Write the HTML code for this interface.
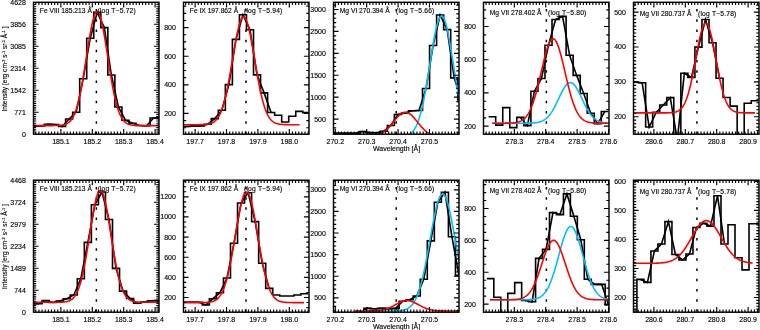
<!DOCTYPE html><html><head><meta charset="utf-8"><style>
html,body{margin:0;padding:0;background:#fff;width:760px;height:330px;overflow:hidden}
svg{display:block}
text{font-family:"Liberation Sans", sans-serif;fill:#000;stroke:#000;stroke-width:0.13px}
.tl{font-size:7.0px}
.tt{font-size:6.7px;white-space:pre}
.ax{font-size:7px}
.ay{font-size:6.6px}
.t2{letter-spacing:0.2px}
</style></head><body>
<svg width="760" height="330" viewBox="0 0 760 330" style="will-change:transform">
<rect width="760" height="330" fill="#fff"/>
<clipPath id="c00"><rect x="33.5" y="2.3" width="125.5" height="131.9"/></clipPath>
<g clip-path="url(#c00)">
<line x1="96.38" y1="9.05" x2="96.38" y2="136.2" stroke="#000" stroke-width="1.5" stroke-dasharray="2.5 7.7"/>
<path d="M30.4 126.2H37.44V126H44.48V124.2H51.52V124.5H58.56V126.5H65.6V119H72.64V112.2H79.68V78.7H86.72V38.2H93.76V12.3H100.8V27.6H107.84V75H114.88V107H121.92V120.2H128.96V123.3H136V125.5H143.04V125.8H150.08V118H157.12V117H164.16" fill="none" stroke="#000" stroke-width="1.6"/>
<polyline points="33.92,126.2 40.96,126 48,124.2 55.04,124.5 62.08,126.5 69.12,119 76.16,112.2 83.2,78.7 90.24,38.2 97.28,12.3 104.32,27.6 111.36,75 118.4,107 125.44,120.2 132.48,123.3 139.52,125.5 146.56,125.8 153.6,118 160.64,117" fill="none" stroke="#000" stroke-width="1.6"/>
<polyline points="31.5,125.6 32,125.6 32.5,125.6 32.99,125.6 33.49,125.6 33.99,125.6 34.49,125.6 34.99,125.6 35.48,125.6 35.98,125.6 36.48,125.6 36.98,125.6 37.48,125.6 37.98,125.6 38.47,125.6 38.97,125.6 39.47,125.6 39.97,125.6 40.47,125.6 40.96,125.6 41.46,125.6 41.96,125.6 42.46,125.6 42.96,125.6 43.45,125.6 43.95,125.6 44.45,125.6 44.95,125.6 45.45,125.6 45.94,125.6 46.44,125.6 46.94,125.6 47.44,125.6 47.94,125.6 48.43,125.6 48.93,125.6 49.43,125.6 49.93,125.59 50.43,125.59 50.92,125.59 51.42,125.59 51.92,125.59 52.42,125.58 52.92,125.58 53.42,125.58 53.91,125.57 54.41,125.57 54.91,125.56 55.41,125.55 55.91,125.54 56.4,125.53 56.9,125.51 57.4,125.5 57.9,125.48 58.4,125.46 58.89,125.43 59.39,125.4 59.89,125.36 60.39,125.32 60.89,125.27 61.38,125.21 61.88,125.14 62.38,125.07 62.88,124.98 63.38,124.88 63.88,124.76 64.37,124.63 64.87,124.48 65.37,124.31 65.87,124.12 66.37,123.9 66.86,123.66 67.36,123.38 67.86,123.07 68.36,122.72 68.86,122.34 69.35,121.91 69.85,121.43 70.35,120.9 70.85,120.31 71.35,119.66 71.84,118.95 72.34,118.17 72.84,117.32 73.34,116.39 73.84,115.38 74.33,114.28 74.83,113.09 75.33,111.81 75.83,110.43 76.33,108.95 76.83,107.36 77.32,105.67 77.82,103.87 78.32,101.96 78.82,99.93 79.32,97.8 79.81,95.55 80.31,93.19 80.81,90.73 81.31,88.16 81.81,85.48 82.3,82.72 82.8,79.86 83.3,76.92 83.8,73.91 84.3,70.83 84.79,67.69 85.29,64.52 85.79,61.3 86.29,58.07 86.79,54.84 87.28,51.61 87.78,48.4 88.28,45.24 88.78,42.12 89.28,39.08 89.78,36.13 90.27,33.28 90.77,30.55 91.27,27.95 91.77,25.5 92.27,23.22 92.76,21.12 93.26,19.21 93.76,17.5 94.26,16.01 94.76,14.74 95.25,13.71 95.75,12.91 96.25,12.36 96.75,12.06 97.25,12.01 97.74,12.21 98.24,12.66 98.74,13.35 99.24,14.29 99.74,15.46 100.23,16.86 100.73,18.48 101.23,20.31 101.73,22.33 102.23,24.54 102.72,26.92 103.22,29.46 103.72,32.13 104.22,34.94 104.72,37.85 105.22,40.86 105.71,43.94 106.21,47.09 106.71,50.28 107.21,53.5 107.71,56.74 108.2,59.97 108.7,63.19 109.2,66.39 109.7,69.54 110.2,72.64 110.69,75.69 111.19,78.66 111.69,81.55 112.19,84.35 112.69,87.06 113.18,89.68 113.68,92.19 114.18,94.59 114.68,96.88 115.18,99.06 115.67,101.13 116.17,103.09 116.67,104.94 117.17,106.68 117.67,108.31 118.17,109.83 118.66,111.25 119.16,112.58 119.66,113.8 120.16,114.94 120.66,115.98 121.15,116.95 121.65,117.83 122.15,118.64 122.65,119.38 123.15,120.05 123.64,120.66 124.14,121.21 124.64,121.71 125.14,122.16 125.64,122.57 126.13,122.93 126.63,123.26 127.13,123.55 127.63,123.8 128.13,124.03 128.62,124.24 129.12,124.42 129.62,124.57 130.12,124.71 130.62,124.83 131.12,124.94 131.61,125.03 132.11,125.11 132.61,125.18 133.11,125.25 133.61,125.3 134.1,125.34 134.6,125.38 135.1,125.42 135.6,125.44 136.1,125.47 136.59,125.49 137.09,125.51 137.59,125.52 138.09,125.54 138.59,125.55 139.08,125.56 139.58,125.56 140.08,125.57 140.58,125.57 141.08,125.58 141.57,125.58 142.07,125.59 142.57,125.59 143.07,125.59 143.57,125.59 144.07,125.59 144.56,125.59 145.06,125.6 145.56,125.6 146.06,125.6 146.56,125.6 147.05,125.6 147.55,125.6 148.05,125.6 148.55,125.6 149.05,125.6 149.54,125.6 150.04,125.6 150.54,125.6 151.04,125.6 151.54,125.6 152.03,125.6 152.53,125.6 153.03,125.6 153.53,125.6 154.03,125.6 154.53,125.6 155.02,125.6 155.52,125.6 156.02,125.6 156.52,125.6 157.02,125.6 157.51,125.6 158.01,125.6 158.51,125.6 159.01,125.6 159.51,125.6 160,125.6 160.5,125.6 161,125.6" fill="none" stroke="#ff0000" stroke-width="1.6"/>
</g>
<path d="M35.78 134.2v-2.7M35.78 2.3v2.7M38.92 134.2v-2.7M38.92 2.3v2.7M42.06 134.2v-2.7M42.06 2.3v2.7M45.2 134.2v-2.7M45.2 2.3v2.7M48.34 134.2v-2.7M48.34 2.3v2.7M51.48 134.2v-2.7M51.48 2.3v2.7M54.62 134.2v-2.7M54.62 2.3v2.7M57.76 134.2v-2.7M57.76 2.3v2.7M60.9 134.2v-5.1M60.9 2.3v5.1M64.04 134.2v-2.7M64.04 2.3v2.7M67.18 134.2v-2.7M67.18 2.3v2.7M70.32 134.2v-2.7M70.32 2.3v2.7M73.46 134.2v-2.7M73.46 2.3v2.7M76.6 134.2v-2.7M76.6 2.3v2.7M79.74 134.2v-2.7M79.74 2.3v2.7M82.88 134.2v-2.7M82.88 2.3v2.7M86.02 134.2v-2.7M86.02 2.3v2.7M89.16 134.2v-2.7M89.16 2.3v2.7M92.3 134.2v-5.1M92.3 2.3v5.1M95.44 134.2v-2.7M95.44 2.3v2.7M98.58 134.2v-2.7M98.58 2.3v2.7M101.72 134.2v-2.7M101.72 2.3v2.7M104.86 134.2v-2.7M104.86 2.3v2.7M108 134.2v-2.7M108 2.3v2.7M111.14 134.2v-2.7M111.14 2.3v2.7M114.28 134.2v-2.7M114.28 2.3v2.7M117.42 134.2v-2.7M117.42 2.3v2.7M120.56 134.2v-2.7M120.56 2.3v2.7M123.7 134.2v-5.1M123.7 2.3v5.1M126.84 134.2v-2.7M126.84 2.3v2.7M129.98 134.2v-2.7M129.98 2.3v2.7M133.12 134.2v-2.7M133.12 2.3v2.7M136.26 134.2v-2.7M136.26 2.3v2.7M139.4 134.2v-2.7M139.4 2.3v2.7M142.54 134.2v-2.7M142.54 2.3v2.7M145.68 134.2v-2.7M145.68 2.3v2.7M148.82 134.2v-2.7M148.82 2.3v2.7M151.96 134.2v-2.7M151.96 2.3v2.7M155.1 134.2v-5.1M155.1 2.3v5.1M158.24 134.2v-2.7M158.24 2.3v2.7M33.5 132h2.7M159 132h-2.7M33.5 129.8h2.7M159 129.8h-2.7M33.5 127.61h2.7M159 127.61h-2.7M33.5 125.41h2.7M159 125.41h-2.7M33.5 123.21h2.7M159 123.21h-2.7M33.5 121.01h2.7M159 121.01h-2.7M33.5 118.81h2.7M159 118.81h-2.7M33.5 116.61h2.7M159 116.61h-2.7M33.5 114.42h2.7M159 114.42h-2.7M33.5 112.22h5.1M159 112.22h-5.1M33.5 110.02h2.7M159 110.02h-2.7M33.5 107.82h2.7M159 107.82h-2.7M33.5 105.62h2.7M159 105.62h-2.7M33.5 103.42h2.7M159 103.42h-2.7M33.5 101.23h2.7M159 101.23h-2.7M33.5 99.03h2.7M159 99.03h-2.7M33.5 96.83h2.7M159 96.83h-2.7M33.5 94.63h2.7M159 94.63h-2.7M33.5 92.43h2.7M159 92.43h-2.7M33.5 90.23h5.1M159 90.23h-5.1M33.5 88.04h2.7M159 88.04h-2.7M33.5 85.84h2.7M159 85.84h-2.7M33.5 83.64h2.7M159 83.64h-2.7M33.5 81.44h2.7M159 81.44h-2.7M33.5 79.24h2.7M159 79.24h-2.7M33.5 77.04h2.7M159 77.04h-2.7M33.5 74.85h2.7M159 74.85h-2.7M33.5 72.65h2.7M159 72.65h-2.7M33.5 70.45h2.7M159 70.45h-2.7M33.5 68.25h5.1M159 68.25h-5.1M33.5 66.05h2.7M159 66.05h-2.7M33.5 63.85h2.7M159 63.85h-2.7M33.5 61.66h2.7M159 61.66h-2.7M33.5 59.46h2.7M159 59.46h-2.7M33.5 57.26h2.7M159 57.26h-2.7M33.5 55.06h2.7M159 55.06h-2.7M33.5 52.86h2.7M159 52.86h-2.7M33.5 50.66h2.7M159 50.66h-2.7M33.5 48.47h2.7M159 48.47h-2.7M33.5 46.27h5.1M159 46.27h-5.1M33.5 44.07h2.7M159 44.07h-2.7M33.5 41.87h2.7M159 41.87h-2.7M33.5 39.67h2.7M159 39.67h-2.7M33.5 37.47h2.7M159 37.47h-2.7M33.5 35.28h2.7M159 35.28h-2.7M33.5 33.08h2.7M159 33.08h-2.7M33.5 30.88h2.7M159 30.88h-2.7M33.5 28.68h2.7M159 28.68h-2.7M33.5 26.48h2.7M159 26.48h-2.7M33.5 24.28h5.1M159 24.28h-5.1M33.5 22.09h2.7M159 22.09h-2.7M33.5 19.89h2.7M159 19.89h-2.7M33.5 17.69h2.7M159 17.69h-2.7M33.5 15.49h2.7M159 15.49h-2.7M33.5 13.29h2.7M159 13.29h-2.7M33.5 11.09h2.7M159 11.09h-2.7M33.5 8.9h2.7M159 8.9h-2.7M33.5 6.7h2.7M159 6.7h-2.7M33.5 4.5h2.7M159 4.5h-2.7" stroke="#000" stroke-width="1.15" fill="none"/>
<rect x="33.5" y="2.3" width="125.5" height="131.9" fill="none" stroke="#000" stroke-width="1.45"/>
<text x="25.9" y="136.7" class="tl" text-anchor="end">0</text>
<text x="25.9" y="114.72" class="tl" text-anchor="end">771</text>
<text x="25.9" y="92.73" class="tl" text-anchor="end">1542</text>
<text x="25.9" y="70.75" class="tl" text-anchor="end">2314</text>
<text x="25.9" y="48.77" class="tl" text-anchor="end">3085</text>
<text x="25.9" y="26.78" class="tl" text-anchor="end">3856</text>
<text x="25.9" y="4.8" class="tl" text-anchor="end">4628</text>
<text x="60.9" y="144" class="tl" text-anchor="middle">185.1</text>
<text x="92.3" y="144" class="tl" text-anchor="middle">185.2</text>
<text x="123.7" y="144" class="tl" text-anchor="middle">185.3</text>
<text x="155.1" y="144" class="tl" text-anchor="middle">185.4</text>
<text x="39.8" y="12.8" class="tt">Fe VIII 185.213 Å</text>
<text x="97.4" y="12.8" class="tt t2">(log T~5.72)</text>
<clipPath id="c10"><rect x="183.5" y="2.3" width="125.5" height="131.9"/></clipPath>
<g clip-path="url(#c10)">
<line x1="245.99" y1="9.05" x2="245.99" y2="136.2" stroke="#000" stroke-width="1.5" stroke-dasharray="2.5 7.7"/>
<path d="M183.12 126.5H190.16V126H197.2V126H204.24V124.2H211.28V118.6H218.32V110.2H225.36V84.6H232.4V39.4H239.44V14.8H246.48V29.7H253.52V74.9H260.56V92.9H267.6V112.5H274.64V115.2H281.68V122H288.72V116.3H295.76V111.4H302.8V112.6H309.84" fill="none" stroke="#000" stroke-width="1.6"/>
<polyline points="186.64,126.5 193.68,126 200.72,126 207.76,124.2 214.8,118.6 221.84,110.2 228.88,84.6 235.92,39.4 242.96,14.8 250,29.7 257.04,74.9 264.08,92.9 271.12,112.5" fill="none" stroke="#000" stroke-width="1.6"/>
<polyline points="183.5,124.7 184,124.7 184.5,124.7 184.99,124.7 185.49,124.7 185.99,124.7 186.49,124.7 186.99,124.7 187.49,124.7 187.98,124.7 188.48,124.7 188.98,124.7 189.48,124.7 189.98,124.7 190.48,124.7 190.97,124.7 191.47,124.7 191.97,124.7 192.47,124.7 192.97,124.7 193.47,124.7 193.96,124.7 194.46,124.69 194.96,124.69 195.46,124.69 195.96,124.69 196.46,124.69 196.95,124.69 197.45,124.68 197.95,124.68 198.45,124.68 198.95,124.67 199.45,124.67 199.94,124.66 200.44,124.65 200.94,124.64 201.44,124.63 201.94,124.62 202.43,124.6 202.93,124.58 203.43,124.56 203.93,124.54 204.43,124.51 204.93,124.48 205.42,124.44 205.92,124.39 206.42,124.34 206.92,124.28 207.42,124.22 207.92,124.14 208.41,124.05 208.91,123.95 209.41,123.84 209.91,123.71 210.41,123.56 210.91,123.4 211.4,123.21 211.9,123 212.4,122.77 212.9,122.5 213.4,122.21 213.9,121.88 214.39,121.52 214.89,121.12 215.39,120.67 215.89,120.18 216.39,119.64 216.88,119.05 217.38,118.4 217.88,117.69 218.38,116.91 218.88,116.07 219.38,115.15 219.87,114.16 220.37,113.09 220.87,111.94 221.37,110.7 221.87,109.37 222.37,107.96 222.86,106.44 223.36,104.84 223.86,103.13 224.36,101.33 224.86,99.43 225.36,97.43 225.85,95.33 226.35,93.14 226.85,90.85 227.35,88.47 227.85,86 228.35,83.45 228.84,80.82 229.34,78.12 229.84,75.35 230.34,72.53 230.84,69.66 231.34,66.75 231.83,63.81 232.33,60.85 232.83,57.89 233.33,54.93 233.83,51.99 234.32,49.08 234.82,46.22 235.32,43.41 235.82,40.68 236.32,38.03 236.82,35.49 237.31,33.05 237.81,30.75 238.31,28.58 238.81,26.56 239.31,24.71 239.81,23.03 240.3,21.54 240.8,20.23 241.3,19.13 241.8,18.24 242.3,17.55 242.8,17.09 243.29,16.84 243.79,16.82 244.29,17.01 244.79,17.43 245.29,18.06 245.79,18.91 246.28,19.96 246.78,21.22 247.28,22.67 247.78,24.31 248.28,26.12 248.78,28.1 249.27,30.24 249.77,32.51 250.27,34.92 250.77,37.44 251.27,40.07 251.76,42.78 252.26,45.57 252.76,48.42 253.26,51.32 253.76,54.26 254.26,57.21 254.75,60.17 255.25,63.13 255.75,66.08 256.25,69 256.75,71.88 257.25,74.71 257.74,77.49 258.24,80.21 258.74,82.86 259.24,85.43 259.74,87.91 260.24,90.31 260.73,92.62 261.23,94.84 261.73,96.96 262.23,98.98 262.73,100.91 263.23,102.73 263.72,104.46 264.22,106.09 264.72,107.62 265.22,109.06 265.72,110.4 266.22,111.66 266.71,112.83 267.21,113.92 267.71,114.93 268.21,115.86 268.71,116.72 269.2,117.51 269.7,118.24 270.2,118.9 270.7,119.51 271.2,120.06 271.7,120.57 272.19,121.02 272.69,121.43 273.19,121.81 273.69,122.14 274.19,122.44 274.69,122.71 275.18,122.95 275.68,123.17 276.18,123.36 276.68,123.53 277.18,123.68 277.68,123.81 278.17,123.93 278.67,124.03 279.17,124.12 279.67,124.2 280.17,124.27 280.67,124.33 281.16,124.38 281.66,124.43 282.16,124.47 282.66,124.5 283.16,124.53 283.65,124.56 284.15,124.58 284.65,124.6 285.15,124.61 285.65,124.63 286.15,124.64 286.64,124.65 287.14,124.66 287.64,124.66 288.14,124.67 288.64,124.68 289.14,124.68 289.63,124.68 290.13,124.69 290.63,124.69 291.13,124.69 291.63,124.69 292.13,124.69 292.62,124.69 293.12,124.7 293.62,124.7 294.12,124.7 294.62,124.7 295.12,124.7 295.61,124.7 296.11,124.7 296.61,124.7 297.11,124.7 297.61,124.7 298.11,124.7 298.6,124.7 299.1,124.7 299.6,124.7" fill="none" stroke="#ff0000" stroke-width="1.6"/>
</g>
<path d="M185.7 134.2v-2.7M185.7 2.3v2.7M188.84 134.2v-2.7M188.84 2.3v2.7M191.98 134.2v-2.7M191.98 2.3v2.7M195.12 134.2v-5.1M195.12 2.3v5.1M198.26 134.2v-2.7M198.26 2.3v2.7M201.4 134.2v-2.7M201.4 2.3v2.7M204.54 134.2v-2.7M204.54 2.3v2.7M207.68 134.2v-2.7M207.68 2.3v2.7M210.82 134.2v-2.7M210.82 2.3v2.7M213.96 134.2v-2.7M213.96 2.3v2.7M217.1 134.2v-2.7M217.1 2.3v2.7M220.24 134.2v-2.7M220.24 2.3v2.7M223.38 134.2v-2.7M223.38 2.3v2.7M226.52 134.2v-5.1M226.52 2.3v5.1M229.66 134.2v-2.7M229.66 2.3v2.7M232.8 134.2v-2.7M232.8 2.3v2.7M235.94 134.2v-2.7M235.94 2.3v2.7M239.08 134.2v-2.7M239.08 2.3v2.7M242.22 134.2v-2.7M242.22 2.3v2.7M245.36 134.2v-2.7M245.36 2.3v2.7M248.5 134.2v-2.7M248.5 2.3v2.7M251.64 134.2v-2.7M251.64 2.3v2.7M254.78 134.2v-2.7M254.78 2.3v2.7M257.92 134.2v-5.1M257.92 2.3v5.1M261.06 134.2v-2.7M261.06 2.3v2.7M264.2 134.2v-2.7M264.2 2.3v2.7M267.34 134.2v-2.7M267.34 2.3v2.7M270.48 134.2v-2.7M270.48 2.3v2.7M273.62 134.2v-2.7M273.62 2.3v2.7M276.76 134.2v-2.7M276.76 2.3v2.7M279.9 134.2v-2.7M279.9 2.3v2.7M283.04 134.2v-2.7M283.04 2.3v2.7M286.18 134.2v-2.7M286.18 2.3v2.7M289.32 134.2v-5.1M289.32 2.3v5.1M292.46 134.2v-2.7M292.46 2.3v2.7M295.6 134.2v-2.7M295.6 2.3v2.7M298.74 134.2v-2.7M298.74 2.3v2.7M301.88 134.2v-2.7M301.88 2.3v2.7M305.02 134.2v-2.7M305.02 2.3v2.7M308.16 134.2v-2.7M308.16 2.3v2.7M183.5 127.7h2.7M309 127.7h-2.7M183.5 120.55h2.7M309 120.55h-2.7M183.5 113.4h5.1M309 113.4h-5.1M183.5 106.25h2.7M309 106.25h-2.7M183.5 99.1h2.7M309 99.1h-2.7M183.5 91.95h2.7M309 91.95h-2.7M183.5 84.8h5.1M309 84.8h-5.1M183.5 77.65h2.7M309 77.65h-2.7M183.5 70.5h2.7M309 70.5h-2.7M183.5 63.35h2.7M309 63.35h-2.7M183.5 56.2h5.1M309 56.2h-5.1M183.5 49.05h2.7M309 49.05h-2.7M183.5 41.9h2.7M309 41.9h-2.7M183.5 34.75h2.7M309 34.75h-2.7M183.5 27.6h5.1M309 27.6h-5.1M183.5 20.45h2.7M309 20.45h-2.7M183.5 13.3h2.7M309 13.3h-2.7M183.5 6.15h2.7M309 6.15h-2.7" stroke="#000" stroke-width="1.15" fill="none"/>
<rect x="183.5" y="2.3" width="125.5" height="131.9" fill="none" stroke="#000" stroke-width="1.45"/>
<text x="175.9" y="115.9" class="tl" text-anchor="end">200</text>
<text x="175.9" y="87.3" class="tl" text-anchor="end">400</text>
<text x="175.9" y="58.7" class="tl" text-anchor="end">600</text>
<text x="175.9" y="30.1" class="tl" text-anchor="end">800</text>
<text x="195.12" y="144" class="tl" text-anchor="middle">197.7</text>
<text x="226.52" y="144" class="tl" text-anchor="middle">197.8</text>
<text x="257.92" y="144" class="tl" text-anchor="middle">197.9</text>
<text x="289.32" y="144" class="tl" text-anchor="middle">198.0</text>
<text x="189.8" y="12.9" class="tt">Fe IX 197.862 Å</text>
<text x="244" y="12.9" class="tt t2">(log T~5.94)</text>
<clipPath id="c20"><rect x="333.5" y="2.3" width="125.5" height="131.9"/></clipPath>
<g clip-path="url(#c20)">
<line x1="396.21" y1="9.05" x2="396.21" y2="136.2" stroke="#000" stroke-width="1.5" stroke-dasharray="2.5 7.7"/>
<path d="M331.01 133.4H338.05V133.2H345.09V133.4H352.13V133.2H359.17V131.5H366.21V132.6H373.25V132.8H380.29V131.2H387.33V125.5H394.37V114.5H401.41V113H408.45V110.8H415.49V110.5H422.53V88.5H429.57V45.5H436.61V15H443.65V29.6H450.69V77.9H457.73V100H464.77" fill="none" stroke="#000" stroke-width="1.6"/>
<polyline points="334.53,133.4 341.57,133.2 348.61,133.4 355.65,133.2 362.69,131.5 369.73,132.6 376.77,132.8 383.81,131.2 390.85,125.5 397.89,114.5 404.93,113 411.97,110.8 419.01,110.5 426.05,88.5 433.09,45.5 440.13,15 447.17,29.6 454.21,77.9 461.25,100" fill="none" stroke="#000" stroke-width="1.6"/>
<polyline points="331.5,137 332,137 332.5,137 332.99,137 333.49,137 333.99,137 334.49,137 334.99,137 335.48,137 335.98,137 336.48,137 336.98,137 337.48,137 337.98,137 338.47,137 338.97,137 339.47,137 339.97,137 340.47,137 340.96,137 341.46,137 341.96,137 342.46,137 342.96,137 343.45,137 343.95,137 344.45,137 344.95,137 345.45,137 345.94,137 346.44,137 346.94,137 347.44,137 347.94,137 348.43,137 348.93,137 349.43,137 349.93,137 350.43,137 350.93,137 351.42,137 351.92,137 352.42,137 352.92,137 353.42,137 353.91,137 354.41,137 354.91,137 355.41,137 355.91,137 356.4,137 356.9,137 357.4,137 357.9,137 358.4,137 358.89,137 359.39,137 359.89,137 360.39,137 360.89,137 361.38,137 361.88,137 362.38,137 362.88,137 363.38,137 363.88,137 364.37,137 364.87,137 365.37,137 365.87,137 366.37,137 366.86,137 367.36,137 367.86,137 368.36,137 368.86,137 369.35,137 369.85,137 370.35,137 370.85,137 371.35,137 371.84,137 372.34,137 372.84,137 373.34,137 373.84,137 374.33,137 374.83,137 375.33,137 375.83,137 376.33,137 376.82,137 377.32,137 377.82,137 378.32,137 378.82,137 379.32,137 379.81,137 380.31,137 380.81,137 381.31,137 381.81,137 382.3,137 382.8,137 383.3,137 383.8,137 384.3,137 384.79,137 385.29,137 385.79,137 386.29,137 386.79,137 387.28,137 387.78,137 388.28,137 388.78,137 389.28,137 389.77,136.99 390.27,136.99 390.77,136.99 391.27,136.99 391.77,136.99 392.27,136.99 392.76,136.98 393.26,136.98 393.76,136.98 394.26,136.97 394.76,136.97 395.25,136.96 395.75,136.95 396.25,136.94 396.75,136.93 397.25,136.92 397.74,136.9 398.24,136.89 398.74,136.87 399.24,136.85 399.74,136.82 400.23,136.79 400.73,136.76 401.23,136.72 401.73,136.67 402.23,136.62 402.73,136.56 403.22,136.49 403.72,136.41 404.22,136.33 404.72,136.23 405.22,136.12 405.71,135.99 406.21,135.85 406.71,135.69 407.21,135.51 407.71,135.31 408.2,135.08 408.7,134.83 409.2,134.55 409.7,134.24 410.2,133.9 410.69,133.52 411.19,133.1 411.69,132.64 412.19,132.14 412.69,131.58 413.18,130.98 413.68,130.32 414.18,129.59 414.68,128.81 415.18,127.96 415.68,127.04 416.17,126.05 416.67,124.98 417.17,123.83 417.67,122.6 418.17,121.28 418.66,119.87 419.16,118.37 419.66,116.77 420.16,115.08 420.66,113.29 421.15,111.4 421.65,109.42 422.15,107.33 422.65,105.15 423.15,102.86 423.64,100.48 424.14,98.01 424.64,95.45 425.14,92.79 425.64,90.06 426.13,87.25 426.63,84.37 427.13,81.42 427.63,78.41 428.13,75.36 428.62,72.27 429.12,69.15 429.62,66.01 430.12,62.86 430.62,59.71 431.12,56.58 431.61,53.47 432.11,50.4 432.61,47.39 433.11,44.44 433.61,41.58 434.1,38.8 434.6,36.13 435.1,33.58 435.6,31.16 436.1,28.88 436.59,26.76 437.09,24.8 437.59,23.02 438.09,21.42 438.59,20.01 439.08,18.81 439.58,17.82 440.08,17.03 440.58,16.47 441.08,16.12 441.57,16 442.07,16.1 442.57,16.42 443.07,16.97 443.57,17.73 444.07,18.7 444.56,19.88 445.06,21.27 445.56,22.85 446.06,24.61 446.56,26.55 447.05,28.66 447.55,30.92 448.05,33.33 448.55,35.87 449.05,38.53 449.54,41.29 450.04,44.15 450.54,47.09 451.04,50.1 451.54,53.16 452.03,56.26 452.53,59.39 453.03,62.54 453.53,65.69 454.03,68.83 454.52,71.96 455.02,75.05 455.52,78.11 456.02,81.12 456.52,84.07 457.02,86.96 457.51,89.78 458.01,92.52 458.51,95.18 459.01,97.76 459.51,100.24 460,102.63 460.5,104.92 461,107.12" fill="none" stroke="#00bfff" stroke-width="1.6"/>
<polyline points="331.5,137 332,137 332.5,137 332.99,137 333.49,137 333.99,137 334.49,137 334.99,137 335.48,137 335.98,137 336.48,137 336.98,137 337.48,137 337.98,137 338.47,137 338.97,137 339.47,137 339.97,137 340.47,137 340.96,137 341.46,137 341.96,137 342.46,137 342.96,137 343.45,137 343.95,137 344.45,137 344.95,137 345.45,137 345.94,137 346.44,137 346.94,137 347.44,137 347.94,137 348.43,137 348.93,137 349.43,137 349.93,137 350.43,137 350.93,137 351.42,137 351.92,137 352.42,137 352.92,137 353.42,137 353.91,137 354.41,137 354.91,137 355.41,137 355.91,136.99 356.4,136.99 356.9,136.99 357.4,136.99 357.9,136.99 358.4,136.99 358.89,136.99 359.39,136.98 359.89,136.98 360.39,136.98 360.89,136.97 361.38,136.97 361.88,136.97 362.38,136.96 362.88,136.95 363.38,136.95 363.88,136.94 364.37,136.93 364.87,136.92 365.37,136.9 365.87,136.89 366.37,136.88 366.86,136.86 367.36,136.84 367.86,136.81 368.36,136.79 368.86,136.76 369.35,136.73 369.85,136.69 370.35,136.65 370.85,136.61 371.35,136.56 371.84,136.5 372.34,136.44 372.84,136.38 373.34,136.3 373.84,136.22 374.33,136.13 374.83,136.03 375.33,135.93 375.83,135.81 376.33,135.68 376.82,135.54 377.32,135.39 377.82,135.23 378.32,135.06 378.82,134.87 379.32,134.66 379.81,134.45 380.31,134.21 380.81,133.96 381.31,133.7 381.81,133.41 382.3,133.11 382.8,132.79 383.3,132.45 383.8,132.09 384.3,131.72 384.79,131.32 385.29,130.91 385.79,130.47 386.29,130.02 386.79,129.55 387.28,129.06 387.78,128.56 388.28,128.04 388.78,127.5 389.28,126.94 389.77,126.38 390.27,125.8 390.77,125.2 391.27,124.6 391.77,123.99 392.27,123.38 392.76,122.76 393.26,122.13 393.76,121.51 394.26,120.88 394.76,120.27 395.25,119.65 395.75,119.05 396.25,118.46 396.75,117.88 397.25,117.31 397.74,116.77 398.24,116.24 398.74,115.74 399.24,115.26 399.74,114.81 400.23,114.39 400.73,114.01 401.23,113.65 401.73,113.33 402.23,113.05 402.73,112.81 403.22,112.6 403.72,112.44 404.22,112.32 404.72,112.24 405.22,112.2 405.71,112.21 406.21,112.26 406.71,112.35 407.21,112.48 407.71,112.65 408.2,112.87 408.7,113.12 409.2,113.41 409.7,113.74 410.2,114.1 410.69,114.5 411.19,114.93 411.69,115.38 412.19,115.87 412.69,116.38 413.18,116.91 413.68,117.46 414.18,118.02 414.68,118.61 415.18,119.2 415.68,119.81 416.17,120.43 416.67,121.05 417.17,121.67 417.67,122.29 418.17,122.92 418.66,123.54 419.16,124.15 419.66,124.76 420.16,125.36 420.66,125.95 421.15,126.52 421.65,127.09 422.15,127.64 422.65,128.17 423.15,128.69 423.64,129.19 424.14,129.68 424.64,130.14 425.14,130.59 425.64,131.02 426.13,131.43 426.63,131.82 427.13,132.19 427.63,132.54 428.13,132.87 428.62,133.19 429.12,133.49 429.62,133.77 430.12,134.03 430.62,134.27 431.12,134.5 431.61,134.72 432.11,134.92 432.61,135.1 433.11,135.28 433.61,135.43 434.1,135.58 434.6,135.72 435.1,135.84 435.6,135.95 436.1,136.06 436.59,136.15 437.09,136.24 437.59,136.32 438.09,136.39 438.59,136.46 439.08,136.52 439.58,136.57 440.08,136.62 440.58,136.66 441.08,136.7 441.57,136.74 442.07,136.77 442.57,136.8 443.07,136.82 443.57,136.84 444.07,136.86 444.56,136.88 445.06,136.89 445.56,136.91 446.06,136.92 446.56,136.93 447.05,136.94 447.55,136.95 448.05,136.96 448.55,136.96 449.05,136.97 449.54,136.97 450.04,136.98 450.54,136.98 451.04,136.98 451.54,136.98 452.03,136.99 452.53,136.99 453.03,136.99 453.53,136.99 454.03,136.99 454.52,136.99 455.02,137 455.52,137 456.02,137 456.52,137 457.02,137 457.51,137 458.01,137 458.51,137 459.01,137 459.51,137 460,137 460.5,137 461,137" fill="none" stroke="#ff0000" stroke-width="1.6"/>
</g>
<path d="M335.29 134.2v-5.1M335.29 2.3v5.1M338.43 134.2v-2.7M338.43 2.3v2.7M341.57 134.2v-2.7M341.57 2.3v2.7M344.71 134.2v-2.7M344.71 2.3v2.7M347.85 134.2v-2.7M347.85 2.3v2.7M350.99 134.2v-2.7M350.99 2.3v2.7M354.13 134.2v-2.7M354.13 2.3v2.7M357.27 134.2v-2.7M357.27 2.3v2.7M360.41 134.2v-2.7M360.41 2.3v2.7M363.55 134.2v-2.7M363.55 2.3v2.7M366.69 134.2v-5.1M366.69 2.3v5.1M369.83 134.2v-2.7M369.83 2.3v2.7M372.97 134.2v-2.7M372.97 2.3v2.7M376.11 134.2v-2.7M376.11 2.3v2.7M379.25 134.2v-2.7M379.25 2.3v2.7M382.39 134.2v-2.7M382.39 2.3v2.7M385.53 134.2v-2.7M385.53 2.3v2.7M388.67 134.2v-2.7M388.67 2.3v2.7M391.81 134.2v-2.7M391.81 2.3v2.7M394.95 134.2v-2.7M394.95 2.3v2.7M398.09 134.2v-5.1M398.09 2.3v5.1M401.23 134.2v-2.7M401.23 2.3v2.7M404.37 134.2v-2.7M404.37 2.3v2.7M407.51 134.2v-2.7M407.51 2.3v2.7M410.65 134.2v-2.7M410.65 2.3v2.7M413.79 134.2v-2.7M413.79 2.3v2.7M416.93 134.2v-2.7M416.93 2.3v2.7M420.07 134.2v-2.7M420.07 2.3v2.7M423.21 134.2v-2.7M423.21 2.3v2.7M426.35 134.2v-2.7M426.35 2.3v2.7M429.49 134.2v-5.1M429.49 2.3v5.1M432.63 134.2v-2.7M432.63 2.3v2.7M435.77 134.2v-2.7M435.77 2.3v2.7M438.91 134.2v-2.7M438.91 2.3v2.7M442.05 134.2v-2.7M442.05 2.3v2.7M445.19 134.2v-2.7M445.19 2.3v2.7M448.33 134.2v-2.7M448.33 2.3v2.7M451.47 134.2v-2.7M451.47 2.3v2.7M454.61 134.2v-2.7M454.61 2.3v2.7M457.75 134.2v-2.7M457.75 2.3v2.7M333.5 132.25h2.7M459 132.25h-2.7M333.5 127.87h2.7M459 127.87h-2.7M333.5 123.48h2.7M459 123.48h-2.7M333.5 119.1h5.1M459 119.1h-5.1M333.5 114.72h2.7M459 114.72h-2.7M333.5 110.33h2.7M459 110.33h-2.7M333.5 105.95h2.7M459 105.95h-2.7M333.5 101.56h2.7M459 101.56h-2.7M333.5 97.18h5.1M459 97.18h-5.1M333.5 92.8h2.7M459 92.8h-2.7M333.5 88.41h2.7M459 88.41h-2.7M333.5 84.03h2.7M459 84.03h-2.7M333.5 79.64h2.7M459 79.64h-2.7M333.5 75.26h5.1M459 75.26h-5.1M333.5 70.88h2.7M459 70.88h-2.7M333.5 66.49h2.7M459 66.49h-2.7M333.5 62.11h2.7M459 62.11h-2.7M333.5 57.72h2.7M459 57.72h-2.7M333.5 53.34h5.1M459 53.34h-5.1M333.5 48.96h2.7M459 48.96h-2.7M333.5 44.57h2.7M459 44.57h-2.7M333.5 40.19h2.7M459 40.19h-2.7M333.5 35.8h2.7M459 35.8h-2.7M333.5 31.42h5.1M459 31.42h-5.1M333.5 27.04h2.7M459 27.04h-2.7M333.5 22.65h2.7M459 22.65h-2.7M333.5 18.27h2.7M459 18.27h-2.7M333.5 13.88h2.7M459 13.88h-2.7M333.5 9.5h5.1M459 9.5h-5.1M333.5 5.12h2.7M459 5.12h-2.7" stroke="#000" stroke-width="1.15" fill="none"/>
<rect x="333.5" y="2.3" width="125.5" height="131.9" fill="none" stroke="#000" stroke-width="1.45"/>
<text x="325.9" y="121.6" class="tl" text-anchor="end">500</text>
<text x="325.9" y="99.68" class="tl" text-anchor="end">1000</text>
<text x="325.9" y="77.76" class="tl" text-anchor="end">1500</text>
<text x="325.9" y="55.84" class="tl" text-anchor="end">2000</text>
<text x="325.9" y="33.92" class="tl" text-anchor="end">2500</text>
<text x="325.9" y="12" class="tl" text-anchor="end">3000</text>
<text x="335.29" y="144" class="tl" text-anchor="middle">270.2</text>
<text x="366.69" y="144" class="tl" text-anchor="middle">270.3</text>
<text x="398.09" y="144" class="tl" text-anchor="middle">270.4</text>
<text x="429.49" y="144" class="tl" text-anchor="middle">270.5</text>
<text x="339.8" y="13.3" class="tt">Mg VI 270.394 Å</text>
<text x="396" y="13.3" class="tt t2">(log T~5.66)</text>
<clipPath id="c30"><rect x="483.5" y="2.3" width="125.5" height="131.9"/></clipPath>
<g clip-path="url(#c30)">
<line x1="546.36" y1="9.05" x2="546.36" y2="136.2" stroke="#000" stroke-width="1.5" stroke-dasharray="2.5 7.7"/>
<path d="M488.66 116.7H495.7V125.1H502.74V107.6H509.78V127.6H516.82V117.4H523.86V125.6H530.9V91.3H537.94V78.5H544.98V45.2H552.02V19.5H559.06V16.4H566.1V55.3H573.14V75.4H580.18V93.5H587.22V113.3H594.26V123.6H601.3V111.5H608.34" fill="none" stroke="#000" stroke-width="1.6"/>
<polyline points="520.34,117.4 527.38,125.6 534.42,91.3 541.46,78.5 548.5,45.2 555.54,19.5 562.58,16.4 569.62,55.3 576.66,75.4 583.7,93.5 590.74,113.3 597.78,123.6 604.82,111.5" fill="none" stroke="#000" stroke-width="1.6"/>
<polyline points="492.2,123.2 492.7,123.2 493.2,123.2 493.7,123.2 494.2,123.2 494.7,123.2 495.19,123.2 495.69,123.2 496.19,123.2 496.69,123.2 497.19,123.2 497.69,123.2 498.19,123.2 498.69,123.2 499.19,123.2 499.69,123.2 500.19,123.2 500.69,123.2 501.18,123.2 501.68,123.2 502.18,123.2 502.68,123.2 503.18,123.2 503.68,123.2 504.18,123.2 504.68,123.2 505.18,123.2 505.68,123.2 506.18,123.2 506.68,123.2 507.17,123.2 507.67,123.2 508.17,123.2 508.67,123.2 509.17,123.2 509.67,123.2 510.17,123.2 510.67,123.2 511.17,123.2 511.67,123.2 512.17,123.2 512.67,123.2 513.16,123.2 513.66,123.2 514.16,123.2 514.66,123.2 515.16,123.2 515.66,123.2 516.16,123.2 516.66,123.2 517.16,123.2 517.66,123.2 518.16,123.2 518.66,123.2 519.15,123.2 519.65,123.2 520.15,123.2 520.65,123.2 521.15,123.19 521.65,123.19 522.15,123.19 522.65,123.19 523.15,123.19 523.65,123.19 524.15,123.19 524.64,123.18 525.14,123.18 525.64,123.18 526.14,123.17 526.64,123.17 527.14,123.16 527.64,123.15 528.14,123.15 528.64,123.14 529.14,123.13 529.64,123.11 530.14,123.1 530.63,123.08 531.13,123.06 531.63,123.04 532.13,123.02 532.63,122.99 533.13,122.96 533.63,122.93 534.13,122.89 534.63,122.84 535.13,122.79 535.63,122.73 536.13,122.67 536.62,122.6 537.12,122.52 537.62,122.43 538.12,122.33 538.62,122.22 539.12,122.1 539.62,121.97 540.12,121.82 540.62,121.66 541.12,121.49 541.62,121.29 542.12,121.08 542.61,120.85 543.11,120.6 543.61,120.32 544.11,120.02 544.61,119.7 545.11,119.36 545.61,118.99 546.11,118.59 546.61,118.16 547.11,117.7 547.61,117.21 548.11,116.69 548.6,116.14 549.1,115.55 549.6,114.94 550.1,114.28 550.6,113.6 551.1,112.88 551.6,112.13 552.1,111.35 552.6,110.53 553.1,109.68 553.6,108.8 554.09,107.9 554.59,106.97 555.09,106.01 555.59,105.03 556.09,104.02 556.59,103.01 557.09,101.97 557.59,100.93 558.09,99.87 558.59,98.81 559.09,97.75 559.59,96.7 560.08,95.65 560.58,94.61 561.08,93.59 561.58,92.59 562.08,91.61 562.58,90.66 563.08,89.75 563.58,88.87 564.08,88.04 564.58,87.25 565.08,86.51 565.58,85.83 566.07,85.21 566.57,84.64 567.07,84.14 567.57,83.71 568.07,83.34 568.57,83.05 569.07,82.83 569.57,82.68 570.07,82.61 570.57,82.61 571.07,82.69 571.57,82.84 572.06,83.07 572.56,83.37 573.06,83.74 573.56,84.17 574.06,84.68 574.56,85.25 575.06,85.88 575.56,86.56 576.06,87.31 576.56,88.1 577.06,88.93 577.56,89.81 578.05,90.73 578.55,91.68 579.05,92.66 579.55,93.66 580.05,94.68 580.55,95.72 581.05,96.77 581.55,97.83 582.05,98.89 582.55,99.95 583.05,101 583.54,102.04 584.04,103.08 584.54,104.1 585.04,105.1 585.54,106.07 586.04,107.03 586.54,107.96 587.04,108.87 587.54,109.74 588.04,110.59 588.54,111.4 589.04,112.18 589.53,112.93 590.03,113.65 590.53,114.33 591.03,114.98 591.53,115.6 592.03,116.18 592.53,116.73 593.03,117.25 593.53,117.73 594.03,118.19 594.53,118.61 595.03,119.01 595.52,119.38 596.02,119.73 596.52,120.05 597.02,120.34 597.52,120.61 598.02,120.86 598.52,121.09 599.02,121.31 599.52,121.5 600.02,121.67 600.52,121.83 601.02,121.98 601.51,122.11 602.01,122.23 602.51,122.34 603.01,122.44 603.51,122.53 604.01,122.6 604.51,122.68 605.01,122.74 605.51,122.79 606.01,122.84 606.51,122.89 607.01,122.93 607.5,122.96 608,122.99 608.5,123.02 609,123.04 609.5,123.07 610,123.08" fill="none" stroke="#00bfff" stroke-width="1.6"/>
<polyline points="492.2,123.2 492.7,123.2 493.2,123.2 493.7,123.2 494.2,123.2 494.7,123.2 495.19,123.2 495.69,123.2 496.19,123.2 496.69,123.2 497.19,123.2 497.69,123.2 498.19,123.2 498.69,123.2 499.19,123.2 499.69,123.2 500.19,123.2 500.69,123.19 501.18,123.19 501.68,123.19 502.18,123.19 502.68,123.19 503.18,123.19 503.68,123.18 504.18,123.18 504.68,123.18 505.18,123.17 505.68,123.17 506.18,123.16 506.68,123.16 507.17,123.15 507.67,123.14 508.17,123.13 508.67,123.12 509.17,123.11 509.67,123.09 510.17,123.07 510.67,123.05 511.17,123.03 511.67,123 512.17,122.97 512.67,122.94 513.16,122.9 513.66,122.85 514.16,122.8 514.66,122.74 515.16,122.68 515.66,122.6 516.16,122.52 516.66,122.42 517.16,122.32 517.66,122.2 518.16,122.07 518.66,121.92 519.15,121.76 519.65,121.57 520.15,121.37 520.65,121.15 521.15,120.9 521.65,120.63 522.15,120.33 522.65,120.01 523.15,119.65 523.65,119.25 524.15,118.83 524.64,118.36 525.14,117.86 525.64,117.31 526.14,116.71 526.64,116.07 527.14,115.38 527.64,114.64 528.14,113.85 528.64,113 529.14,112.09 529.64,111.12 530.14,110.09 530.63,108.99 531.13,107.84 531.63,106.62 532.13,105.33 532.63,103.97 533.13,102.55 533.63,101.07 534.13,99.52 534.63,97.9 535.13,96.22 535.63,94.48 536.13,92.69 536.62,90.83 537.12,88.93 537.62,86.97 538.12,84.98 538.62,82.94 539.12,80.87 539.62,78.77 540.12,76.65 540.62,74.51 541.12,72.37 541.62,70.22 542.12,68.08 542.61,65.95 543.11,63.85 543.61,61.78 544.11,59.75 544.61,57.76 545.11,55.83 545.61,53.97 546.11,52.18 546.61,50.47 547.11,48.85 547.61,47.33 548.11,45.92 548.6,44.61 549.1,43.43 549.6,42.37 550.1,41.44 550.6,40.64 551.1,39.98 551.6,39.47 552.1,39.1 552.6,38.88 553.1,38.8 553.6,38.87 554.09,39.09 554.59,39.46 555.09,39.98 555.59,40.63 556.09,41.43 556.59,42.35 557.09,43.41 557.59,44.6 558.09,45.9 558.59,47.31 559.09,48.83 559.59,50.45 560.08,52.16 560.58,53.94 561.08,55.81 561.58,57.73 562.08,59.72 562.58,61.75 563.08,63.82 563.58,65.93 564.08,68.05 564.58,70.19 565.08,72.34 565.58,74.48 566.07,76.62 566.57,78.74 567.07,80.84 567.57,82.91 568.07,84.95 568.57,86.95 569.07,88.9 569.57,90.81 570.07,92.66 570.57,94.46 571.07,96.2 571.57,97.88 572.06,99.49 572.56,101.05 573.06,102.53 573.56,103.95 574.06,105.31 574.56,106.6 575.06,107.82 575.56,108.98 576.06,110.07 576.56,111.1 577.06,112.07 577.56,112.98 578.05,113.84 578.55,114.63 579.05,115.37 579.55,116.06 580.05,116.71 580.55,117.3 581.05,117.85 581.55,118.35 582.05,118.82 582.55,119.25 583.05,119.64 583.54,120 584.04,120.33 584.54,120.63 585.04,120.9 585.54,121.15 586.04,121.37 586.54,121.57 587.04,121.75 587.54,121.92 588.04,122.07 588.54,122.2 589.04,122.32 589.53,122.42 590.03,122.52 590.53,122.6 591.03,122.68 591.53,122.74 592.03,122.8 592.53,122.85 593.03,122.9 593.53,122.94 594.03,122.97 594.53,123 595.03,123.03 595.52,123.05 596.02,123.07 596.52,123.09 597.02,123.11 597.52,123.12 598.02,123.13 598.52,123.14 599.02,123.15 599.52,123.16 600.02,123.16 600.52,123.17 601.02,123.17 601.51,123.18 602.01,123.18 602.51,123.18 603.01,123.19 603.51,123.19 604.01,123.19 604.51,123.19 605.01,123.19 605.51,123.19 606.01,123.2 606.51,123.2 607.01,123.2 607.5,123.2 608,123.2 608.5,123.2 609,123.2 609.5,123.2 610,123.2" fill="none" stroke="#ff0000" stroke-width="1.6"/>
</g>
<path d="M486.07 134.2v-2.7M486.07 2.3v2.7M489.21 134.2v-2.7M489.21 2.3v2.7M492.35 134.2v-2.7M492.35 2.3v2.7M495.49 134.2v-2.7M495.49 2.3v2.7M498.63 134.2v-2.7M498.63 2.3v2.7M501.77 134.2v-2.7M501.77 2.3v2.7M504.91 134.2v-2.7M504.91 2.3v2.7M508.05 134.2v-2.7M508.05 2.3v2.7M511.19 134.2v-2.7M511.19 2.3v2.7M514.33 134.2v-5.1M514.33 2.3v5.1M517.47 134.2v-2.7M517.47 2.3v2.7M520.61 134.2v-2.7M520.61 2.3v2.7M523.75 134.2v-2.7M523.75 2.3v2.7M526.89 134.2v-2.7M526.89 2.3v2.7M530.03 134.2v-2.7M530.03 2.3v2.7M533.17 134.2v-2.7M533.17 2.3v2.7M536.31 134.2v-2.7M536.31 2.3v2.7M539.45 134.2v-2.7M539.45 2.3v2.7M542.59 134.2v-2.7M542.59 2.3v2.7M545.73 134.2v-5.1M545.73 2.3v5.1M548.87 134.2v-2.7M548.87 2.3v2.7M552.01 134.2v-2.7M552.01 2.3v2.7M555.15 134.2v-2.7M555.15 2.3v2.7M558.29 134.2v-2.7M558.29 2.3v2.7M561.43 134.2v-2.7M561.43 2.3v2.7M564.57 134.2v-2.7M564.57 2.3v2.7M567.71 134.2v-2.7M567.71 2.3v2.7M570.85 134.2v-2.7M570.85 2.3v2.7M573.99 134.2v-2.7M573.99 2.3v2.7M577.13 134.2v-5.1M577.13 2.3v5.1M580.27 134.2v-2.7M580.27 2.3v2.7M583.41 134.2v-2.7M583.41 2.3v2.7M586.55 134.2v-2.7M586.55 2.3v2.7M589.69 134.2v-2.7M589.69 2.3v2.7M592.83 134.2v-2.7M592.83 2.3v2.7M595.97 134.2v-2.7M595.97 2.3v2.7M599.11 134.2v-2.7M599.11 2.3v2.7M602.25 134.2v-2.7M602.25 2.3v2.7M605.39 134.2v-2.7M605.39 2.3v2.7M608.53 134.2v-5.1M608.53 2.3v5.1M483.5 126.1h5.1M609 126.1h-5.1M483.5 117.8h2.7M609 117.8h-2.7M483.5 109.5h2.7M609 109.5h-2.7M483.5 101.2h2.7M609 101.2h-2.7M483.5 92.9h5.1M609 92.9h-5.1M483.5 84.6h2.7M609 84.6h-2.7M483.5 76.3h2.7M609 76.3h-2.7M483.5 68h2.7M609 68h-2.7M483.5 59.7h5.1M609 59.7h-5.1M483.5 51.4h2.7M609 51.4h-2.7M483.5 43.1h2.7M609 43.1h-2.7M483.5 34.8h2.7M609 34.8h-2.7M483.5 26.5h5.1M609 26.5h-5.1M483.5 18.2h2.7M609 18.2h-2.7M483.5 9.9h2.7M609 9.9h-2.7" stroke="#000" stroke-width="1.15" fill="none"/>
<rect x="483.5" y="2.3" width="125.5" height="131.9" fill="none" stroke="#000" stroke-width="1.45"/>
<text x="475.9" y="128.6" class="tl" text-anchor="end">200</text>
<text x="475.9" y="95.4" class="tl" text-anchor="end">400</text>
<text x="475.9" y="62.2" class="tl" text-anchor="end">600</text>
<text x="475.9" y="29" class="tl" text-anchor="end">800</text>
<text x="514.33" y="144" class="tl" text-anchor="middle">278.3</text>
<text x="545.73" y="144" class="tl" text-anchor="middle">278.4</text>
<text x="577.13" y="144" class="tl" text-anchor="middle">278.5</text>
<text x="608.53" y="144" class="tl" text-anchor="middle">278.6</text>
<text x="489.8" y="14.7" class="tt">Mg VII 278.402 Å</text>
<text x="548" y="14.7" class="tt t2">(log T~5.80)</text>
<clipPath id="c40"><rect x="633.5" y="2.3" width="125.5" height="131.9"/></clipPath>
<g clip-path="url(#c40)">
<line x1="696.93" y1="9.05" x2="696.93" y2="136.2" stroke="#000" stroke-width="1.5" stroke-dasharray="2.5 7.7"/>
<path d="M624.52 82.3H631.56V82.3H638.6V82.7H645.64V127H652.68V112.4H659.72V105H666.76V97.6H673.8V140H680.84V73.2H687.88V77.4H694.92V47.1H701.96V19.5H709V42.8H716.04V78.2H723.08V97.5H730.12V106.1H737.16V140H744.2V103.2H751.24V100.7H758.28" fill="none" stroke="#000" stroke-width="1.6"/>
<polyline points="628.04,82.3 635.08,82.3 642.12,82.7 649.16,127 656.2,112.4 663.24,105 670.28,97.6 677.32,140 684.36,73.2 691.4,77.4 698.44,47.1 705.48,19.5 712.52,42.8 719.56,78.2" fill="none" stroke="#000" stroke-width="1.6"/>
<polyline points="633.5,112.9 634,112.9 634.5,112.9 634.99,112.9 635.49,112.9 635.99,112.9 636.49,112.9 636.99,112.9 637.48,112.9 637.98,112.9 638.48,112.9 638.98,112.9 639.48,112.9 639.97,112.9 640.47,112.9 640.97,112.9 641.47,112.9 641.97,112.9 642.46,112.9 642.96,112.9 643.46,112.9 643.96,112.9 644.45,112.9 644.95,112.9 645.45,112.9 645.95,112.9 646.45,112.9 646.94,112.9 647.44,112.9 647.94,112.9 648.44,112.9 648.94,112.9 649.43,112.9 649.93,112.9 650.43,112.9 650.93,112.9 651.43,112.9 651.92,112.9 652.42,112.9 652.92,112.9 653.42,112.9 653.92,112.9 654.41,112.9 654.91,112.9 655.41,112.9 655.91,112.9 656.41,112.9 656.9,112.9 657.4,112.9 657.9,112.9 658.4,112.9 658.9,112.9 659.39,112.9 659.89,112.9 660.39,112.9 660.89,112.9 661.39,112.9 661.88,112.89 662.38,112.89 662.88,112.89 663.38,112.89 663.88,112.89 664.37,112.88 664.87,112.88 665.37,112.87 665.87,112.87 666.36,112.86 666.86,112.85 667.36,112.84 667.86,112.83 668.36,112.82 668.85,112.8 669.35,112.78 669.85,112.76 670.35,112.73 670.85,112.7 671.34,112.66 671.84,112.62 672.34,112.57 672.84,112.51 673.34,112.44 673.83,112.36 674.33,112.27 674.83,112.16 675.33,112.04 675.83,111.9 676.32,111.74 676.82,111.55 677.32,111.35 677.82,111.11 678.32,110.85 678.81,110.55 679.31,110.22 679.81,109.84 680.31,109.42 680.81,108.96 681.3,108.44 681.8,107.87 682.3,107.24 682.8,106.54 683.3,105.78 683.79,104.94 684.29,104.03 684.79,103.04 685.29,101.97 685.78,100.81 686.28,99.56 686.78,98.22 687.28,96.78 687.78,95.24 688.27,93.61 688.77,91.88 689.27,90.04 689.77,88.11 690.27,86.09 690.76,83.97 691.26,81.76 691.76,79.46 692.26,77.08 692.76,74.63 693.25,72.11 693.75,69.54 694.25,66.91 694.75,64.25 695.25,61.56 695.74,58.86 696.24,56.16 696.74,53.46 697.24,50.8 697.74,48.17 698.23,45.6 698.73,43.11 699.23,40.7 699.73,38.39 700.23,36.19 700.72,34.13 701.22,32.22 701.72,30.46 702.22,28.87 702.72,27.46 703.21,26.25 703.71,25.23 704.21,24.43 704.71,23.83 705.2,23.46 705.7,23.3 706.2,23.37 706.7,23.66 707.2,24.17 707.69,24.89 708.19,25.83 708.69,26.97 709.19,28.3 709.69,29.82 710.18,31.51 710.68,33.37 711.18,35.37 711.68,37.52 712.18,39.78 712.67,42.15 713.17,44.62 713.67,47.16 714.17,49.77 714.67,52.42 715.16,55.1 715.66,57.8 716.16,60.51 716.66,63.21 717.16,65.88 717.65,68.52 718.15,71.11 718.65,73.66 719.15,76.13 719.65,78.54 720.14,80.87 720.64,83.11 721.14,85.27 721.64,87.33 722.14,89.3 722.63,91.17 723.13,92.94 723.63,94.62 724.13,96.19 724.62,97.67 725.12,99.05 725.62,100.33 726.12,101.53 726.62,102.64 727.11,103.66 727.61,104.6 728.11,105.46 728.61,106.25 729.11,106.97 729.6,107.63 730.1,108.22 730.6,108.76 731.1,109.25 731.6,109.68 732.09,110.08 732.59,110.42 733.09,110.74 733.59,111.01 734.09,111.26 734.58,111.48 735.08,111.67 735.58,111.84 736.08,111.98 736.58,112.11 737.07,112.23 737.57,112.32 738.07,112.41 738.57,112.48 739.07,112.55 739.56,112.6 740.06,112.65 740.56,112.69 741.06,112.72 741.56,112.75 742.05,112.77 742.55,112.8 743.05,112.81 743.55,112.83 744.05,112.84 744.54,112.85 745.04,112.86 745.54,112.87 746.04,112.87 746.53,112.88 747.03,112.88 747.53,112.89 748.03,112.89 748.53,112.89 749.02,112.89 749.52,112.89 750.02,112.89 750.52,112.9 751.02,112.9 751.51,112.9 752.01,112.9 752.51,112.9 753.01,112.9 753.51,112.9 754,112.9 754.5,112.9 755,112.9" fill="none" stroke="#ff0000" stroke-width="1.6"/>
</g>
<path d="M635.07 134.2v-2.7M635.07 2.3v2.7M638.21 134.2v-2.7M638.21 2.3v2.7M641.35 134.2v-2.7M641.35 2.3v2.7M644.49 134.2v-2.7M644.49 2.3v2.7M647.63 134.2v-2.7M647.63 2.3v2.7M650.77 134.2v-2.7M650.77 2.3v2.7M653.91 134.2v-5.1M653.91 2.3v5.1M657.05 134.2v-2.7M657.05 2.3v2.7M660.19 134.2v-2.7M660.19 2.3v2.7M663.33 134.2v-2.7M663.33 2.3v2.7M666.47 134.2v-2.7M666.47 2.3v2.7M669.61 134.2v-2.7M669.61 2.3v2.7M672.75 134.2v-2.7M672.75 2.3v2.7M675.89 134.2v-2.7M675.89 2.3v2.7M679.03 134.2v-2.7M679.03 2.3v2.7M682.17 134.2v-2.7M682.17 2.3v2.7M685.31 134.2v-5.1M685.31 2.3v5.1M688.45 134.2v-2.7M688.45 2.3v2.7M691.59 134.2v-2.7M691.59 2.3v2.7M694.73 134.2v-2.7M694.73 2.3v2.7M697.87 134.2v-2.7M697.87 2.3v2.7M701.01 134.2v-2.7M701.01 2.3v2.7M704.15 134.2v-2.7M704.15 2.3v2.7M707.29 134.2v-2.7M707.29 2.3v2.7M710.43 134.2v-2.7M710.43 2.3v2.7M713.57 134.2v-2.7M713.57 2.3v2.7M716.71 134.2v-5.1M716.71 2.3v5.1M719.85 134.2v-2.7M719.85 2.3v2.7M722.99 134.2v-2.7M722.99 2.3v2.7M726.13 134.2v-2.7M726.13 2.3v2.7M729.27 134.2v-2.7M729.27 2.3v2.7M732.41 134.2v-2.7M732.41 2.3v2.7M735.55 134.2v-2.7M735.55 2.3v2.7M738.69 134.2v-2.7M738.69 2.3v2.7M741.83 134.2v-2.7M741.83 2.3v2.7M744.97 134.2v-2.7M744.97 2.3v2.7M748.11 134.2v-5.1M748.11 2.3v5.1M751.25 134.2v-2.7M751.25 2.3v2.7M754.39 134.2v-2.7M754.39 2.3v2.7M757.53 134.2v-2.7M757.53 2.3v2.7M633.5 130.65h2.7M759 130.65h-2.7M633.5 127.16h2.7M759 127.16h-2.7M633.5 123.67h2.7M759 123.67h-2.7M633.5 120.19h2.7M759 120.19h-2.7M633.5 116.7h5.1M759 116.7h-5.1M633.5 113.21h2.7M759 113.21h-2.7M633.5 109.73h2.7M759 109.73h-2.7M633.5 106.24h2.7M759 106.24h-2.7M633.5 102.75h2.7M759 102.75h-2.7M633.5 99.27h2.7M759 99.27h-2.7M633.5 95.78h2.7M759 95.78h-2.7M633.5 92.29h2.7M759 92.29h-2.7M633.5 88.81h2.7M759 88.81h-2.7M633.5 85.32h2.7M759 85.32h-2.7M633.5 81.83h5.1M759 81.83h-5.1M633.5 78.35h2.7M759 78.35h-2.7M633.5 74.86h2.7M759 74.86h-2.7M633.5 71.37h2.7M759 71.37h-2.7M633.5 67.89h2.7M759 67.89h-2.7M633.5 64.4h2.7M759 64.4h-2.7M633.5 60.91h2.7M759 60.91h-2.7M633.5 57.43h2.7M759 57.43h-2.7M633.5 53.94h2.7M759 53.94h-2.7M633.5 50.45h2.7M759 50.45h-2.7M633.5 46.97h5.1M759 46.97h-5.1M633.5 43.48h2.7M759 43.48h-2.7M633.5 39.99h2.7M759 39.99h-2.7M633.5 36.51h2.7M759 36.51h-2.7M633.5 33.02h2.7M759 33.02h-2.7M633.5 29.53h2.7M759 29.53h-2.7M633.5 26.05h2.7M759 26.05h-2.7M633.5 22.56h2.7M759 22.56h-2.7M633.5 19.07h2.7M759 19.07h-2.7M633.5 15.59h2.7M759 15.59h-2.7M633.5 12.1h5.1M759 12.1h-5.1M633.5 8.61h2.7M759 8.61h-2.7M633.5 5.13h2.7M759 5.13h-2.7" stroke="#000" stroke-width="1.15" fill="none"/>
<rect x="633.5" y="2.3" width="125.5" height="131.9" fill="none" stroke="#000" stroke-width="1.45"/>
<text x="625.9" y="119.2" class="tl" text-anchor="end">200</text>
<text x="625.9" y="84.33" class="tl" text-anchor="end">300</text>
<text x="625.9" y="49.47" class="tl" text-anchor="end">400</text>
<text x="625.9" y="14.6" class="tl" text-anchor="end">500</text>
<text x="653.91" y="144" class="tl" text-anchor="middle">280.6</text>
<text x="685.31" y="144" class="tl" text-anchor="middle">280.7</text>
<text x="716.71" y="144" class="tl" text-anchor="middle">280.8</text>
<text x="748.11" y="144" class="tl" text-anchor="middle">280.9</text>
<text x="639.8" y="16" class="tt">Mg VII 280.737 Å</text>
<text x="698" y="16" class="tt t2">(log T~5.78)</text>
<clipPath id="c01"><rect x="33.5" y="180.2" width="125.5" height="132"/></clipPath>
<g clip-path="url(#c01)">
<line x1="96.38" y1="186.95" x2="96.38" y2="314.2" stroke="#000" stroke-width="1.5" stroke-dasharray="2.5 7.7"/>
<path d="M28.02 303.7H35.06V303.7H42.1V300.6H49.14V302.5H56.18V301.1H63.22V298.8H70.26V295H77.3V278.7H84.34V242.4H91.38V204.7H98.42V192H105.46V219.5H112.5V268.4H119.54V291.1H126.58V298.5H133.62V303.3H140.66V302H147.7V300.8H154.74V300.5H161.78" fill="none" stroke="#000" stroke-width="1.6"/>
<polyline points="31.54,303.7 38.58,303.7 45.62,300.6 52.66,302.5 59.7,301.1 66.74,298.8 73.78,295 80.82,278.7 87.86,242.4 94.9,204.7 101.94,192 108.98,219.5 116.02,268.4 123.06,291.1 130.1,298.5 137.14,303.3 144.18,302 151.22,300.8 158.26,300.5" fill="none" stroke="#000" stroke-width="1.6"/>
<polyline points="31.5,302.3 32,302.3 32.5,302.3 32.99,302.3 33.49,302.3 33.99,302.3 34.49,302.3 34.99,302.3 35.48,302.3 35.98,302.3 36.48,302.3 36.98,302.3 37.48,302.3 37.98,302.3 38.47,302.3 38.97,302.3 39.47,302.3 39.97,302.3 40.47,302.3 40.96,302.3 41.46,302.3 41.96,302.3 42.46,302.3 42.96,302.3 43.45,302.3 43.95,302.3 44.45,302.3 44.95,302.3 45.45,302.3 45.94,302.3 46.44,302.3 46.94,302.3 47.44,302.3 47.94,302.3 48.43,302.3 48.93,302.3 49.43,302.3 49.93,302.3 50.43,302.3 50.92,302.3 51.42,302.3 51.92,302.3 52.42,302.3 52.92,302.29 53.42,302.29 53.91,302.29 54.41,302.29 54.91,302.29 55.41,302.29 55.91,302.28 56.4,302.28 56.9,302.27 57.4,302.27 57.9,302.26 58.4,302.25 58.89,302.25 59.39,302.23 59.89,302.22 60.39,302.21 60.89,302.19 61.38,302.17 61.88,302.14 62.38,302.11 62.88,302.08 63.38,302.04 63.88,301.99 64.37,301.94 64.87,301.88 65.37,301.81 65.87,301.73 66.37,301.63 66.86,301.53 67.36,301.41 67.86,301.27 68.36,301.11 68.86,300.93 69.35,300.72 69.85,300.49 70.35,300.24 70.85,299.94 71.35,299.62 71.84,299.26 72.34,298.85 72.84,298.4 73.34,297.9 73.84,297.35 74.33,296.73 74.83,296.06 75.33,295.33 75.83,294.52 76.33,293.64 76.83,292.67 77.32,291.63 77.82,290.5 78.32,289.28 78.82,287.96 79.32,286.55 79.81,285.03 80.31,283.41 80.81,281.68 81.31,279.84 81.81,277.9 82.3,275.84 82.8,273.68 83.3,271.4 83.8,269.02 84.3,266.54 84.79,263.95 85.29,261.26 85.79,258.49 86.29,255.63 86.79,252.7 87.28,249.69 87.78,246.63 88.28,243.52 88.78,240.37 89.28,237.19 89.78,234.01 90.27,230.83 90.77,227.66 91.27,224.53 91.77,221.44 92.27,218.42 92.76,215.47 93.26,212.62 93.76,209.88 94.26,207.27 94.76,204.79 95.25,202.48 95.75,200.33 96.25,198.37 96.75,196.6 97.25,195.04 97.74,193.7 98.24,192.59 98.74,191.7 99.24,191.06 99.74,190.66 100.23,190.5 100.73,190.59 101.23,190.93 101.73,191.51 102.23,192.33 102.72,193.39 103.22,194.67 103.72,196.17 104.22,197.89 104.72,199.8 105.22,201.9 105.71,204.17 106.21,206.6 106.71,209.18 107.21,211.89 107.71,214.71 108.2,217.63 108.7,220.64 109.2,223.71 109.7,226.83 110.2,229.99 110.69,233.17 111.19,236.36 111.69,239.54 112.19,242.69 112.69,245.82 113.18,248.89 113.68,251.91 114.18,254.87 114.68,257.75 115.18,260.54 115.67,263.25 116.17,265.87 116.67,268.38 117.17,270.79 117.67,273.09 118.17,275.28 118.66,277.37 119.16,279.34 119.66,281.21 120.16,282.96 120.66,284.61 121.15,286.16 121.65,287.6 122.15,288.94 122.65,290.19 123.15,291.34 123.64,292.41 124.14,293.39 124.64,294.29 125.14,295.12 125.64,295.88 126.13,296.56 126.63,297.19 127.13,297.76 127.63,298.27 128.13,298.74 128.62,299.15 129.12,299.53 129.62,299.86 130.12,300.16 130.62,300.43 131.12,300.67 131.61,300.88 132.11,301.06 132.61,301.23 133.11,301.37 133.61,301.5 134.1,301.61 134.6,301.71 135.1,301.79 135.6,301.86 136.1,301.93 136.59,301.98 137.09,302.03 137.59,302.07 138.09,302.11 138.59,302.14 139.08,302.16 139.58,302.18 140.08,302.2 140.58,302.22 141.08,302.23 141.57,302.24 142.07,302.25 142.57,302.26 143.07,302.27 143.57,302.27 144.07,302.28 144.56,302.28 145.06,302.28 145.56,302.29 146.06,302.29 146.56,302.29 147.05,302.29 147.55,302.29 148.05,302.3 148.55,302.3 149.05,302.3 149.54,302.3 150.04,302.3 150.54,302.3 151.04,302.3 151.54,302.3 152.03,302.3 152.53,302.3 153.03,302.3 153.53,302.3 154.03,302.3 154.53,302.3 155.02,302.3 155.52,302.3 156.02,302.3 156.52,302.3 157.02,302.3 157.51,302.3 158.01,302.3 158.51,302.3 159.01,302.3 159.51,302.3 160,302.3 160.5,302.3 161,302.3" fill="none" stroke="#ff0000" stroke-width="1.6"/>
</g>
<path d="M35.78 312.2v-2.7M35.78 180.2v2.7M38.92 312.2v-2.7M38.92 180.2v2.7M42.06 312.2v-2.7M42.06 180.2v2.7M45.2 312.2v-2.7M45.2 180.2v2.7M48.34 312.2v-2.7M48.34 180.2v2.7M51.48 312.2v-2.7M51.48 180.2v2.7M54.62 312.2v-2.7M54.62 180.2v2.7M57.76 312.2v-2.7M57.76 180.2v2.7M60.9 312.2v-5.1M60.9 180.2v5.1M64.04 312.2v-2.7M64.04 180.2v2.7M67.18 312.2v-2.7M67.18 180.2v2.7M70.32 312.2v-2.7M70.32 180.2v2.7M73.46 312.2v-2.7M73.46 180.2v2.7M76.6 312.2v-2.7M76.6 180.2v2.7M79.74 312.2v-2.7M79.74 180.2v2.7M82.88 312.2v-2.7M82.88 180.2v2.7M86.02 312.2v-2.7M86.02 180.2v2.7M89.16 312.2v-2.7M89.16 180.2v2.7M92.3 312.2v-5.1M92.3 180.2v5.1M95.44 312.2v-2.7M95.44 180.2v2.7M98.58 312.2v-2.7M98.58 180.2v2.7M101.72 312.2v-2.7M101.72 180.2v2.7M104.86 312.2v-2.7M104.86 180.2v2.7M108 312.2v-2.7M108 180.2v2.7M111.14 312.2v-2.7M111.14 180.2v2.7M114.28 312.2v-2.7M114.28 180.2v2.7M117.42 312.2v-2.7M117.42 180.2v2.7M120.56 312.2v-2.7M120.56 180.2v2.7M123.7 312.2v-5.1M123.7 180.2v5.1M126.84 312.2v-2.7M126.84 180.2v2.7M129.98 312.2v-2.7M129.98 180.2v2.7M133.12 312.2v-2.7M133.12 180.2v2.7M136.26 312.2v-2.7M136.26 180.2v2.7M139.4 312.2v-2.7M139.4 180.2v2.7M142.54 312.2v-2.7M142.54 180.2v2.7M145.68 312.2v-2.7M145.68 180.2v2.7M148.82 312.2v-2.7M148.82 180.2v2.7M151.96 312.2v-2.7M151.96 180.2v2.7M155.1 312.2v-5.1M155.1 180.2v5.1M158.24 312.2v-2.7M158.24 180.2v2.7M33.5 310h2.7M159 310h-2.7M33.5 307.8h2.7M159 307.8h-2.7M33.5 305.6h2.7M159 305.6h-2.7M33.5 303.4h2.7M159 303.4h-2.7M33.5 301.2h2.7M159 301.2h-2.7M33.5 299h2.7M159 299h-2.7M33.5 296.8h2.7M159 296.8h-2.7M33.5 294.6h2.7M159 294.6h-2.7M33.5 292.4h2.7M159 292.4h-2.7M33.5 290.2h5.1M159 290.2h-5.1M33.5 288h2.7M159 288h-2.7M33.5 285.8h2.7M159 285.8h-2.7M33.5 283.6h2.7M159 283.6h-2.7M33.5 281.4h2.7M159 281.4h-2.7M33.5 279.2h2.7M159 279.2h-2.7M33.5 277h2.7M159 277h-2.7M33.5 274.8h2.7M159 274.8h-2.7M33.5 272.6h2.7M159 272.6h-2.7M33.5 270.4h2.7M159 270.4h-2.7M33.5 268.2h5.1M159 268.2h-5.1M33.5 266h2.7M159 266h-2.7M33.5 263.8h2.7M159 263.8h-2.7M33.5 261.6h2.7M159 261.6h-2.7M33.5 259.4h2.7M159 259.4h-2.7M33.5 257.2h2.7M159 257.2h-2.7M33.5 255h2.7M159 255h-2.7M33.5 252.8h2.7M159 252.8h-2.7M33.5 250.6h2.7M159 250.6h-2.7M33.5 248.4h2.7M159 248.4h-2.7M33.5 246.2h5.1M159 246.2h-5.1M33.5 244h2.7M159 244h-2.7M33.5 241.8h2.7M159 241.8h-2.7M33.5 239.6h2.7M159 239.6h-2.7M33.5 237.4h2.7M159 237.4h-2.7M33.5 235.2h2.7M159 235.2h-2.7M33.5 233h2.7M159 233h-2.7M33.5 230.8h2.7M159 230.8h-2.7M33.5 228.6h2.7M159 228.6h-2.7M33.5 226.4h2.7M159 226.4h-2.7M33.5 224.2h5.1M159 224.2h-5.1M33.5 222h2.7M159 222h-2.7M33.5 219.8h2.7M159 219.8h-2.7M33.5 217.6h2.7M159 217.6h-2.7M33.5 215.4h2.7M159 215.4h-2.7M33.5 213.2h2.7M159 213.2h-2.7M33.5 211h2.7M159 211h-2.7M33.5 208.8h2.7M159 208.8h-2.7M33.5 206.6h2.7M159 206.6h-2.7M33.5 204.4h2.7M159 204.4h-2.7M33.5 202.2h5.1M159 202.2h-5.1M33.5 200h2.7M159 200h-2.7M33.5 197.8h2.7M159 197.8h-2.7M33.5 195.6h2.7M159 195.6h-2.7M33.5 193.4h2.7M159 193.4h-2.7M33.5 191.2h2.7M159 191.2h-2.7M33.5 189h2.7M159 189h-2.7M33.5 186.8h2.7M159 186.8h-2.7M33.5 184.6h2.7M159 184.6h-2.7M33.5 182.4h2.7M159 182.4h-2.7" stroke="#000" stroke-width="1.15" fill="none"/>
<rect x="33.5" y="180.2" width="125.5" height="132" fill="none" stroke="#000" stroke-width="1.45"/>
<text x="25.9" y="314.7" class="tl" text-anchor="end">0</text>
<text x="25.9" y="292.7" class="tl" text-anchor="end">744</text>
<text x="25.9" y="270.7" class="tl" text-anchor="end">1489</text>
<text x="25.9" y="248.7" class="tl" text-anchor="end">2234</text>
<text x="25.9" y="226.7" class="tl" text-anchor="end">2979</text>
<text x="25.9" y="204.7" class="tl" text-anchor="end">3724</text>
<text x="25.9" y="182.7" class="tl" text-anchor="end">4468</text>
<text x="60.9" y="322" class="tl" text-anchor="middle">185.1</text>
<text x="92.3" y="322" class="tl" text-anchor="middle">185.2</text>
<text x="123.7" y="322" class="tl" text-anchor="middle">185.3</text>
<text x="155.1" y="322" class="tl" text-anchor="middle">185.4</text>
<text x="39.8" y="190.8" class="tt">Fe VIII 185.213 Å</text>
<text x="97.4" y="190.8" class="tt t2">(log T~5.72)</text>
<clipPath id="c11"><rect x="183.5" y="180.2" width="125.5" height="132"/></clipPath>
<g clip-path="url(#c11)">
<line x1="245.99" y1="186.95" x2="245.99" y2="314.2" stroke="#000" stroke-width="1.5" stroke-dasharray="2.5 7.7"/>
<path d="M181.22 302.3H188.26V302.3H195.3V302.3H202.34V304.9H209.38V298.7H216.42V292.7H223.46V278H230.5V243.2H237.54V203H244.58V192.7H251.62V221.6H258.66V263.2H265.7V288.4H272.74V295H279.78V296H286.82V296H293.86V295H300.9V293.8H307.94" fill="none" stroke="#000" stroke-width="1.6"/>
<polyline points="184.74,302.3 191.78,302.3 198.82,302.3 205.86,304.9 212.9,298.7 219.94,292.7 226.98,278 234.02,243.2 241.06,203 248.1,192.7 255.14,221.6 262.18,263.2 269.22,288.4" fill="none" stroke="#000" stroke-width="1.6"/>
<polyline points="183.5,302.6 184,302.6 184.5,302.6 184.99,302.6 185.49,302.6 185.99,302.6 186.49,302.6 186.99,302.6 187.48,302.6 187.98,302.6 188.48,302.6 188.98,302.6 189.48,302.6 189.97,302.6 190.47,302.6 190.97,302.6 191.47,302.6 191.96,302.6 192.46,302.6 192.96,302.6 193.46,302.6 193.96,302.6 194.45,302.6 194.95,302.6 195.45,302.6 195.95,302.6 196.45,302.59 196.94,302.59 197.44,302.59 197.94,302.59 198.44,302.59 198.94,302.59 199.43,302.58 199.93,302.58 200.43,302.58 200.93,302.57 201.43,302.57 201.92,302.56 202.42,302.55 202.92,302.54 203.42,302.53 203.92,302.52 204.41,302.51 204.91,302.49 205.41,302.47 205.91,302.44 206.4,302.42 206.9,302.39 207.4,302.35 207.9,302.31 208.4,302.26 208.89,302.21 209.39,302.14 209.89,302.07 210.39,301.99 210.89,301.9 211.38,301.79 211.88,301.67 212.38,301.53 212.88,301.38 213.38,301.21 213.87,301.01 214.37,300.79 214.87,300.55 215.37,300.28 215.87,299.97 216.36,299.64 216.86,299.26 217.36,298.85 217.86,298.4 218.36,297.9 218.85,297.34 219.35,296.74 219.85,296.08 220.35,295.36 220.85,294.58 221.34,293.72 221.84,292.8 222.34,291.81 222.84,290.73 223.33,289.57 223.83,288.33 224.33,287.01 224.83,285.59 225.33,284.08 225.82,282.47 226.32,280.77 226.82,278.98 227.32,277.08 227.82,275.09 228.31,273 228.81,270.82 229.31,268.54 229.81,266.17 230.31,263.72 230.8,261.18 231.3,258.56 231.8,255.86 232.3,253.1 232.8,250.28 233.29,247.41 233.79,244.5 234.29,241.56 234.79,238.59 235.29,235.61 235.78,232.63 236.28,229.66 236.78,226.71 237.28,223.81 237.77,220.95 238.27,218.15 238.77,215.44 239.27,212.81 239.77,210.29 240.26,207.88 240.76,205.6 241.26,203.46 241.76,201.48 242.26,199.66 242.75,198.02 243.25,196.55 243.75,195.28 244.25,194.21 244.75,193.35 245.24,192.69 245.74,192.25 246.24,192.03 246.74,192.02 247.24,192.24 247.73,192.67 248.23,193.31 248.73,194.17 249.23,195.23 249.73,196.49 250.22,197.95 250.72,199.58 251.22,201.39 251.72,203.37 252.21,205.5 252.71,207.77 253.21,210.17 253.71,212.69 254.21,215.31 254.7,218.03 255.2,220.82 255.7,223.67 256.2,226.58 256.7,229.52 257.19,232.49 257.69,235.47 258.19,238.45 258.69,241.42 259.19,244.37 259.68,247.28 260.18,250.15 260.68,252.98 261.18,255.74 261.68,258.43 262.17,261.06 262.67,263.6 263.17,266.06 263.67,268.44 264.17,270.72 264.66,272.91 265.16,275 265.66,277 266.16,278.89 266.65,280.69 267.15,282.4 267.65,284.01 268.15,285.52 268.65,286.94 269.14,288.28 269.64,289.52 270.14,290.68 270.64,291.76 271.14,292.76 271.63,293.68 272.13,294.54 272.63,295.33 273.13,296.05 273.63,296.71 274.12,297.32 274.62,297.87 275.12,298.37 275.62,298.83 276.12,299.25 276.61,299.62 277.11,299.96 277.61,300.26 278.11,300.54 278.61,300.78 279.1,301 279.6,301.2 280.1,301.37 280.6,301.53 281.1,301.66 281.59,301.78 282.09,301.89 282.59,301.98 283.09,302.07 283.58,302.14 284.08,302.2 284.58,302.26 285.08,302.31 285.58,302.35 286.07,302.38 286.57,302.42 287.07,302.44 287.57,302.47 288.07,302.49 288.56,302.5 289.06,302.52 289.56,302.53 290.06,302.54 290.56,302.55 291.05,302.56 291.55,302.57 292.05,302.57 292.55,302.58 293.05,302.58 293.54,302.58 294.04,302.59 294.54,302.59 295.04,302.59 295.54,302.59 296.03,302.59 296.53,302.59 297.03,302.6 297.53,302.6 298.02,302.6 298.52,302.6 299.02,302.6 299.52,302.6 300.02,302.6 300.51,302.6 301.01,302.6 301.51,302.6 302.01,302.6 302.51,302.6 303,302.6 303.5,302.6 304,302.6" fill="none" stroke="#ff0000" stroke-width="1.6"/>
</g>
<path d="M185.7 312.2v-2.7M185.7 180.2v2.7M188.84 312.2v-2.7M188.84 180.2v2.7M191.98 312.2v-2.7M191.98 180.2v2.7M195.12 312.2v-5.1M195.12 180.2v5.1M198.26 312.2v-2.7M198.26 180.2v2.7M201.4 312.2v-2.7M201.4 180.2v2.7M204.54 312.2v-2.7M204.54 180.2v2.7M207.68 312.2v-2.7M207.68 180.2v2.7M210.82 312.2v-2.7M210.82 180.2v2.7M213.96 312.2v-2.7M213.96 180.2v2.7M217.1 312.2v-2.7M217.1 180.2v2.7M220.24 312.2v-2.7M220.24 180.2v2.7M223.38 312.2v-2.7M223.38 180.2v2.7M226.52 312.2v-5.1M226.52 180.2v5.1M229.66 312.2v-2.7M229.66 180.2v2.7M232.8 312.2v-2.7M232.8 180.2v2.7M235.94 312.2v-2.7M235.94 180.2v2.7M239.08 312.2v-2.7M239.08 180.2v2.7M242.22 312.2v-2.7M242.22 180.2v2.7M245.36 312.2v-2.7M245.36 180.2v2.7M248.5 312.2v-2.7M248.5 180.2v2.7M251.64 312.2v-2.7M251.64 180.2v2.7M254.78 312.2v-2.7M254.78 180.2v2.7M257.92 312.2v-5.1M257.92 180.2v5.1M261.06 312.2v-2.7M261.06 180.2v2.7M264.2 312.2v-2.7M264.2 180.2v2.7M267.34 312.2v-2.7M267.34 180.2v2.7M270.48 312.2v-2.7M270.48 180.2v2.7M273.62 312.2v-2.7M273.62 180.2v2.7M276.76 312.2v-2.7M276.76 180.2v2.7M279.9 312.2v-2.7M279.9 180.2v2.7M283.04 312.2v-2.7M283.04 180.2v2.7M286.18 312.2v-2.7M286.18 180.2v2.7M289.32 312.2v-5.1M289.32 180.2v5.1M292.46 312.2v-2.7M292.46 180.2v2.7M295.6 312.2v-2.7M295.6 180.2v2.7M298.74 312.2v-2.7M298.74 180.2v2.7M301.88 312.2v-2.7M301.88 180.2v2.7M305.02 312.2v-2.7M305.02 180.2v2.7M308.16 312.2v-2.7M308.16 180.2v2.7M183.5 307.57h2.7M309 307.57h-2.7M183.5 302.53h2.7M309 302.53h-2.7M183.5 297.5h5.1M309 297.5h-5.1M183.5 292.47h2.7M309 292.47h-2.7M183.5 287.43h2.7M309 287.43h-2.7M183.5 282.39h2.7M309 282.39h-2.7M183.5 277.36h5.1M309 277.36h-5.1M183.5 272.32h2.7M309 272.32h-2.7M183.5 267.29h2.7M309 267.29h-2.7M183.5 262.25h2.7M309 262.25h-2.7M183.5 257.22h5.1M309 257.22h-5.1M183.5 252.19h2.7M309 252.19h-2.7M183.5 247.15h2.7M309 247.15h-2.7M183.5 242.12h2.7M309 242.12h-2.7M183.5 237.08h5.1M309 237.08h-5.1M183.5 232.05h2.7M309 232.05h-2.7M183.5 227.01h2.7M309 227.01h-2.7M183.5 221.98h2.7M309 221.98h-2.7M183.5 216.94h5.1M309 216.94h-5.1M183.5 211.91h2.7M309 211.91h-2.7M183.5 206.87h2.7M309 206.87h-2.7M183.5 201.84h2.7M309 201.84h-2.7M183.5 196.8h5.1M309 196.8h-5.1M183.5 191.77h2.7M309 191.77h-2.7M183.5 186.73h2.7M309 186.73h-2.7M183.5 181.7h2.7M309 181.7h-2.7" stroke="#000" stroke-width="1.15" fill="none"/>
<rect x="183.5" y="180.2" width="125.5" height="132" fill="none" stroke="#000" stroke-width="1.45"/>
<text x="175.9" y="300" class="tl" text-anchor="end">200</text>
<text x="175.9" y="279.86" class="tl" text-anchor="end">400</text>
<text x="175.9" y="259.72" class="tl" text-anchor="end">600</text>
<text x="175.9" y="239.58" class="tl" text-anchor="end">800</text>
<text x="175.9" y="219.44" class="tl" text-anchor="end">1000</text>
<text x="175.9" y="199.3" class="tl" text-anchor="end">1200</text>
<text x="195.12" y="322" class="tl" text-anchor="middle">197.7</text>
<text x="226.52" y="322" class="tl" text-anchor="middle">197.8</text>
<text x="257.92" y="322" class="tl" text-anchor="middle">197.9</text>
<text x="289.32" y="322" class="tl" text-anchor="middle">198.0</text>
<text x="189.8" y="190.9" class="tt">Fe IX 197.862 Å</text>
<text x="244" y="190.9" class="tt t2">(log T~5.94)</text>
<clipPath id="c21"><rect x="333.5" y="180.2" width="125.5" height="132"/></clipPath>
<g clip-path="url(#c21)">
<line x1="396.21" y1="186.95" x2="396.21" y2="314.2" stroke="#000" stroke-width="1.5" stroke-dasharray="2.5 7.7"/>
<path d="M328.74 314H335.78V314H342.82V314H349.86V314H356.9V313H363.94V308.3H370.98V308.8H378.02V308.2H385.06V308.6H392.1V308.4H399.14V301.2H406.18V299.7H413.22V296H420.26V279.2H427.3V240.9H434.34V202.3H441.38V192.2H448.42V236.8H455.46V275.4H462.5" fill="none" stroke="#000" stroke-width="1.6"/>
<polyline points="332.26,314 339.3,314 346.34,314 353.38,314 360.42,313 367.46,308.3 374.5,308.8 381.54,308.2 388.58,308.6 395.62,308.4 402.66,301.2 409.7,299.7 416.74,296 423.78,279.2 430.82,240.9 437.86,202.3 444.9,192.2 451.94,236.8 458.98,275.4" fill="none" stroke="#000" stroke-width="1.6"/>
<polyline points="355,311 355.5,311 356,311 356.49,311 356.99,311 357.49,311 357.99,311 358.48,311 358.98,311 359.48,311 359.98,311 360.48,311 360.97,311 361.47,311 361.97,311 362.47,311 362.97,311 363.46,311 363.96,311 364.46,311 364.96,311 365.45,311 365.95,311 366.45,311 366.95,311 367.45,311 367.94,311 368.44,311 368.94,311 369.44,311 369.94,311 370.43,311 370.93,311 371.43,311 371.93,311 372.42,311 372.92,311 373.42,311 373.92,311 374.42,311 374.91,311 375.41,311 375.91,311 376.41,311 376.9,311 377.4,311 377.9,311 378.4,311 378.9,311 379.39,311 379.89,311 380.39,311 380.89,311 381.39,311 381.88,311 382.38,311 382.88,311 383.38,311 383.87,311 384.37,311 384.87,311 385.37,311 385.87,311 386.36,310.99 386.86,310.99 387.36,310.99 387.86,310.99 388.35,310.99 388.85,310.99 389.35,310.98 389.85,310.98 390.35,310.98 390.84,310.97 391.34,310.97 391.84,310.97 392.34,310.96 392.84,310.95 393.33,310.94 393.83,310.93 394.33,310.92 394.83,310.91 395.32,310.9 395.82,310.88 396.32,310.86 396.82,310.84 397.32,310.82 397.81,310.79 398.31,310.76 398.81,310.72 399.31,310.68 399.81,310.63 400.3,310.58 400.8,310.52 401.3,310.46 401.8,310.38 402.29,310.3 402.79,310.2 403.29,310.1 403.79,309.98 404.29,309.85 404.78,309.71 405.28,309.54 405.78,309.36 406.28,309.17 406.77,308.95 407.27,308.7 407.77,308.44 408.27,308.14 408.77,307.82 409.26,307.47 409.76,307.08 410.26,306.66 410.76,306.2 411.26,305.7 411.75,305.16 412.25,304.57 412.75,303.93 413.25,303.24 413.74,302.5 414.24,301.7 414.74,300.85 415.24,299.93 415.74,298.95 416.23,297.9 416.73,296.78 417.23,295.59 417.73,294.33 418.23,292.99 418.72,291.57 419.22,290.08 419.72,288.51 420.22,286.85 420.71,285.12 421.21,283.3 421.71,281.4 422.21,279.42 422.71,277.36 423.2,275.22 423.7,273.01 424.2,270.72 424.7,268.36 425.19,265.94 425.69,263.44 426.19,260.89 426.69,258.29 427.19,255.64 427.68,252.94 428.18,250.21 428.68,247.45 429.18,244.66 429.68,241.86 430.17,239.06 430.67,236.26 431.17,233.47 431.67,230.71 432.16,227.97 432.66,225.27 433.16,222.63 433.66,220.05 434.16,217.53 434.65,215.1 435.15,212.76 435.65,210.51 436.15,208.38 436.65,206.36 437.14,204.47 437.64,202.72 438.14,201.11 438.64,199.65 439.13,198.34 439.63,197.2 440.13,196.23 440.63,195.42 441.13,194.8 441.62,194.35 442.12,194.08 442.62,194 443.12,194.1 443.61,194.38 444.11,194.84 444.61,195.48 445.11,196.3 445.61,197.28 446.1,198.44 446.6,199.75 447.1,201.23 447.6,202.85 448.1,204.61 448.59,206.51 449.09,208.54 449.59,210.68 450.09,212.93 450.58,215.28 451.08,217.72 451.58,220.24 452.08,222.83 452.58,225.48 453.07,228.18 453.57,230.92 454.07,233.68 454.57,236.47 455.06,239.28 455.56,242.08 456.06,244.88 456.56,247.66 457.06,250.42 457.55,253.15 458.05,255.84 458.55,258.49 459.05,261.09 459.55,263.64 460.04,266.12 460.54,268.55 461.04,270.9 461.54,273.18 462.03,275.39 462.53,277.52 463.03,279.57 463.53,281.55 464.03,283.44 464.52,285.25 465.02,286.98 465.52,288.63 466.02,290.2 466.52,291.68 467.01,293.09 467.51,294.43 468.01,295.68 468.51,296.87 469,297.98 469.5,299.02 470,300" fill="none" stroke="#00bfff" stroke-width="1.6"/>
<polyline points="355,311 355.5,311 356,311 356.49,311 356.99,311 357.49,311 357.99,311 358.48,311 358.98,311 359.48,311 359.98,311 360.48,311 360.97,311 361.47,311 361.97,311 362.47,310.99 362.97,310.99 363.46,310.99 363.96,310.99 364.46,310.99 364.96,310.99 365.45,310.98 365.95,310.98 366.45,310.98 366.95,310.98 367.45,310.97 367.94,310.97 368.44,310.96 368.94,310.96 369.44,310.95 369.94,310.94 370.43,310.93 370.93,310.92 371.43,310.91 371.93,310.9 372.42,310.89 372.92,310.87 373.42,310.85 373.92,310.83 374.42,310.81 374.91,310.79 375.41,310.76 375.91,310.73 376.41,310.7 376.9,310.66 377.4,310.62 377.9,310.58 378.4,310.53 378.9,310.47 379.39,310.42 379.89,310.35 380.39,310.28 380.89,310.21 381.39,310.13 381.88,310.04 382.38,309.95 382.88,309.85 383.38,309.74 383.87,309.62 384.37,309.5 384.87,309.37 385.37,309.23 385.87,309.08 386.36,308.92 386.86,308.76 387.36,308.58 387.86,308.4 388.35,308.21 388.85,308.01 389.35,307.8 389.85,307.58 390.35,307.36 390.84,307.12 391.34,306.88 391.84,306.64 392.34,306.39 392.84,306.13 393.33,305.87 393.83,305.6 394.33,305.33 394.83,305.06 395.32,304.79 395.82,304.52 396.32,304.24 396.82,303.97 397.32,303.7 397.81,303.44 398.31,303.18 398.81,302.93 399.31,302.68 399.81,302.45 400.3,302.22 400.8,302.01 401.3,301.8 401.8,301.61 402.29,301.44 402.79,301.27 403.29,301.13 403.79,301 404.29,300.89 404.78,300.79 405.28,300.72 405.78,300.66 406.28,300.62 406.77,300.6 407.27,300.6 407.77,300.62 408.27,300.66 408.77,300.72 409.26,300.8 409.76,300.9 410.26,301.01 410.76,301.14 411.26,301.29 411.75,301.45 412.25,301.63 412.75,301.82 413.25,302.03 413.74,302.24 414.24,302.47 414.74,302.71 415.24,302.95 415.74,303.21 416.23,303.47 416.73,303.73 417.23,304 417.73,304.27 418.23,304.54 418.72,304.81 419.22,305.09 419.72,305.36 420.22,305.63 420.71,305.89 421.21,306.15 421.71,306.41 422.21,306.66 422.71,306.91 423.2,307.15 423.7,307.38 424.2,307.6 424.7,307.82 425.19,308.03 425.69,308.22 426.19,308.42 426.69,308.6 427.19,308.77 427.68,308.94 428.18,309.09 428.68,309.24 429.18,309.38 429.68,309.51 430.17,309.63 430.67,309.75 431.17,309.86 431.67,309.96 432.16,310.05 432.66,310.14 433.16,310.22 433.66,310.29 434.16,310.36 434.65,310.42 435.15,310.48 435.65,310.53 436.15,310.58 436.65,310.62 437.14,310.66 437.64,310.7 438.14,310.73 438.64,310.76 439.13,310.79 439.63,310.81 440.13,310.84 440.63,310.86 441.13,310.87 441.62,310.89 442.12,310.9 442.62,310.91 443.12,310.92 443.61,310.93 444.11,310.94 444.61,310.95 445.11,310.96 445.61,310.96 446.1,310.97 446.6,310.97 447.1,310.98 447.6,310.98 448.1,310.98 448.59,310.98 449.09,310.99 449.59,310.99 450.09,310.99 450.58,310.99 451.08,310.99 451.58,310.99 452.08,311 452.58,311 453.07,311 453.57,311 454.07,311 454.57,311 455.06,311 455.56,311 456.06,311 456.56,311 457.06,311 457.55,311 458.05,311 458.55,311 459.05,311 459.55,311 460.04,311 460.54,311 461.04,311 461.54,311 462.03,311 462.53,311 463.03,311 463.53,311 464.03,311 464.52,311 465.02,311 465.52,311 466.02,311 466.52,311 467.01,311 467.51,311 468.01,311 468.51,311 469,311 469.5,311 470,311" fill="none" stroke="#ff0000" stroke-width="1.6"/>
</g>
<path d="M335.29 312.2v-5.1M335.29 180.2v5.1M338.43 312.2v-2.7M338.43 180.2v2.7M341.57 312.2v-2.7M341.57 180.2v2.7M344.71 312.2v-2.7M344.71 180.2v2.7M347.85 312.2v-2.7M347.85 180.2v2.7M350.99 312.2v-2.7M350.99 180.2v2.7M354.13 312.2v-2.7M354.13 180.2v2.7M357.27 312.2v-2.7M357.27 180.2v2.7M360.41 312.2v-2.7M360.41 180.2v2.7M363.55 312.2v-2.7M363.55 180.2v2.7M366.69 312.2v-5.1M366.69 180.2v5.1M369.83 312.2v-2.7M369.83 180.2v2.7M372.97 312.2v-2.7M372.97 180.2v2.7M376.11 312.2v-2.7M376.11 180.2v2.7M379.25 312.2v-2.7M379.25 180.2v2.7M382.39 312.2v-2.7M382.39 180.2v2.7M385.53 312.2v-2.7M385.53 180.2v2.7M388.67 312.2v-2.7M388.67 180.2v2.7M391.81 312.2v-2.7M391.81 180.2v2.7M394.95 312.2v-2.7M394.95 180.2v2.7M398.09 312.2v-5.1M398.09 180.2v5.1M401.23 312.2v-2.7M401.23 180.2v2.7M404.37 312.2v-2.7M404.37 180.2v2.7M407.51 312.2v-2.7M407.51 180.2v2.7M410.65 312.2v-2.7M410.65 180.2v2.7M413.79 312.2v-2.7M413.79 180.2v2.7M416.93 312.2v-2.7M416.93 180.2v2.7M420.07 312.2v-2.7M420.07 180.2v2.7M423.21 312.2v-2.7M423.21 180.2v2.7M426.35 312.2v-2.7M426.35 180.2v2.7M429.49 312.2v-5.1M429.49 180.2v5.1M432.63 312.2v-2.7M432.63 180.2v2.7M435.77 312.2v-2.7M435.77 180.2v2.7M438.91 312.2v-2.7M438.91 180.2v2.7M442.05 312.2v-2.7M442.05 180.2v2.7M445.19 312.2v-2.7M445.19 180.2v2.7M448.33 312.2v-2.7M448.33 180.2v2.7M451.47 312.2v-2.7M451.47 180.2v2.7M454.61 312.2v-2.7M454.61 180.2v2.7M457.75 312.2v-2.7M457.75 180.2v2.7M333.5 310.76h2.7M459 310.76h-2.7M333.5 306.44h2.7M459 306.44h-2.7M333.5 302.12h2.7M459 302.12h-2.7M333.5 297.8h5.1M459 297.8h-5.1M333.5 293.48h2.7M459 293.48h-2.7M333.5 289.16h2.7M459 289.16h-2.7M333.5 284.84h2.7M459 284.84h-2.7M333.5 280.52h2.7M459 280.52h-2.7M333.5 276.2h5.1M459 276.2h-5.1M333.5 271.88h2.7M459 271.88h-2.7M333.5 267.56h2.7M459 267.56h-2.7M333.5 263.24h2.7M459 263.24h-2.7M333.5 258.92h2.7M459 258.92h-2.7M333.5 254.6h5.1M459 254.6h-5.1M333.5 250.28h2.7M459 250.28h-2.7M333.5 245.96h2.7M459 245.96h-2.7M333.5 241.64h2.7M459 241.64h-2.7M333.5 237.32h2.7M459 237.32h-2.7M333.5 233h5.1M459 233h-5.1M333.5 228.68h2.7M459 228.68h-2.7M333.5 224.36h2.7M459 224.36h-2.7M333.5 220.04h2.7M459 220.04h-2.7M333.5 215.72h2.7M459 215.72h-2.7M333.5 211.4h5.1M459 211.4h-5.1M333.5 207.08h2.7M459 207.08h-2.7M333.5 202.76h2.7M459 202.76h-2.7M333.5 198.44h2.7M459 198.44h-2.7M333.5 194.12h2.7M459 194.12h-2.7M333.5 189.8h5.1M459 189.8h-5.1M333.5 185.48h2.7M459 185.48h-2.7M333.5 181.16h2.7M459 181.16h-2.7" stroke="#000" stroke-width="1.15" fill="none"/>
<rect x="333.5" y="180.2" width="125.5" height="132" fill="none" stroke="#000" stroke-width="1.45"/>
<text x="325.9" y="300.3" class="tl" text-anchor="end">500</text>
<text x="325.9" y="278.7" class="tl" text-anchor="end">1000</text>
<text x="325.9" y="257.1" class="tl" text-anchor="end">1500</text>
<text x="325.9" y="235.5" class="tl" text-anchor="end">2000</text>
<text x="325.9" y="213.9" class="tl" text-anchor="end">2500</text>
<text x="325.9" y="192.3" class="tl" text-anchor="end">3000</text>
<text x="335.29" y="322" class="tl" text-anchor="middle">270.2</text>
<text x="366.69" y="322" class="tl" text-anchor="middle">270.3</text>
<text x="398.09" y="322" class="tl" text-anchor="middle">270.4</text>
<text x="429.49" y="322" class="tl" text-anchor="middle">270.5</text>
<text x="339.8" y="191.3" class="tt">Mg VI 270.394 Å</text>
<text x="396" y="191.3" class="tt t2">(log T~5.66)</text>
<clipPath id="c31"><rect x="483.5" y="180.2" width="125.5" height="132"/></clipPath>
<g clip-path="url(#c31)">
<line x1="546.36" y1="186.95" x2="546.36" y2="314.2" stroke="#000" stroke-width="1.5" stroke-dasharray="2.5 7.7"/>
<path d="M486.86 278.6H493.82V297.2H500.78V320H507.74V293.4H514.7V282.6H521.66V300.5H528.62V301.7H535.58V258.4H542.54V249.4H549.5V212.6H556.46V214.6H563.42V193.9H570.38V216.2H577.34V239.8H584.3V279.2H591.26V284.4H598.22V284.4H605.18V305H612.14" fill="none" stroke="#000" stroke-width="1.6"/>
<polyline points="525.14,300.5 532.1,301.7 539.06,258.4 546.02,249.4 552.98,212.6 559.94,214.6 566.9,193.9 573.86,216.2 580.82,239.8 587.78,279.2 594.74,284.4 601.7,284.4 608.66,305" fill="none" stroke="#000" stroke-width="1.6"/>
<polyline points="489.9,299.8 490.4,299.8 490.9,299.8 491.4,299.8 491.89,299.8 492.39,299.8 492.89,299.8 493.39,299.8 493.89,299.8 494.39,299.8 494.88,299.8 495.38,299.8 495.88,299.8 496.38,299.8 496.88,299.8 497.38,299.8 497.87,299.8 498.37,299.8 498.87,299.8 499.37,299.8 499.87,299.8 500.37,299.8 500.86,299.8 501.36,299.8 501.86,299.8 502.36,299.8 502.86,299.8 503.36,299.8 503.85,299.8 504.35,299.8 504.85,299.8 505.35,299.8 505.85,299.8 506.35,299.8 506.84,299.8 507.34,299.8 507.84,299.8 508.34,299.8 508.84,299.8 509.34,299.8 509.83,299.8 510.33,299.8 510.83,299.8 511.33,299.8 511.83,299.8 512.33,299.8 512.82,299.8 513.32,299.8 513.82,299.8 514.32,299.8 514.82,299.8 515.32,299.8 515.81,299.8 516.31,299.8 516.81,299.8 517.31,299.8 517.81,299.8 518.31,299.79 518.8,299.79 519.3,299.79 519.8,299.79 520.3,299.79 520.8,299.79 521.3,299.79 521.79,299.78 522.29,299.78 522.79,299.78 523.29,299.77 523.79,299.77 524.29,299.76 524.78,299.75 525.28,299.74 525.78,299.74 526.28,299.72 526.78,299.71 527.28,299.7 527.77,299.68 528.27,299.66 528.77,299.64 529.27,299.62 529.77,299.59 530.27,299.56 530.76,299.52 531.26,299.48 531.76,299.43 532.26,299.38 532.76,299.32 533.26,299.25 533.75,299.18 534.25,299.09 534.75,299 535.25,298.89 535.75,298.77 536.25,298.64 536.74,298.49 537.24,298.33 537.74,298.15 538.24,297.95 538.74,297.74 539.24,297.49 539.73,297.23 540.23,296.94 540.73,296.63 541.23,296.28 541.73,295.9 542.23,295.5 542.72,295.05 543.22,294.57 543.72,294.05 544.22,293.5 544.72,292.89 545.22,292.25 545.71,291.56 546.21,290.82 546.71,290.03 547.21,289.19 547.71,288.29 548.21,287.35 548.7,286.35 549.2,285.29 549.7,284.18 550.2,283.01 550.7,281.78 551.2,280.5 551.69,279.16 552.19,277.77 552.69,276.33 553.19,274.83 553.69,273.28 554.19,271.69 554.68,270.05 555.18,268.37 555.68,266.66 556.18,264.91 556.68,263.13 557.18,261.32 557.67,259.5 558.17,257.66 558.67,255.82 559.17,253.97 559.67,252.13 560.17,250.3 560.66,248.49 561.16,246.71 561.66,244.95 562.16,243.24 562.66,241.57 563.16,239.96 563.65,238.41 564.15,236.93 564.65,235.52 565.15,234.19 565.65,232.95 566.15,231.81 566.64,230.77 567.14,229.83 567.64,229 568.14,228.28 568.64,227.68 569.14,227.2 569.63,226.84 570.13,226.61 570.63,226.51 571.13,226.53 571.63,226.67 572.13,226.95 572.62,227.34 573.12,227.86 573.62,228.5 574.12,229.25 574.62,230.12 575.12,231.09 575.61,232.17 576.11,233.34 576.61,234.61 577.11,235.96 577.61,237.4 578.11,238.9 578.6,240.47 579.1,242.1 579.6,243.79 580.1,245.51 580.6,247.28 581.1,249.07 581.59,250.89 582.09,252.72 582.59,254.57 583.09,256.41 583.59,258.26 584.09,260.09 584.58,261.91 585.08,263.7 585.58,265.47 586.08,267.21 586.58,268.92 587.08,270.58 587.57,272.21 588.07,273.79 588.57,275.32 589.07,276.8 589.57,278.23 590.07,279.6 590.56,280.92 591.06,282.18 591.56,283.39 592.06,284.54 592.56,285.64 593.06,286.67 593.55,287.66 594.05,288.59 594.55,289.46 595.05,290.29 595.55,291.06 596.05,291.78 596.54,292.46 597.04,293.09 597.54,293.68 598.04,294.23 598.54,294.73 599.04,295.2 599.53,295.63 600.03,296.03 600.53,296.4 601.03,296.73 601.53,297.04 602.03,297.32 602.52,297.57 603.02,297.81 603.52,298.02 604.02,298.21 604.52,298.39 605.02,298.54 605.51,298.68 606.01,298.81 606.51,298.93 607.01,299.03 607.51,299.12 608.01,299.2 608.5,299.27 609,299.34 609.5,299.4 610,299.45" fill="none" stroke="#00bfff" stroke-width="1.6"/>
<polyline points="489.9,299.8 490.4,299.8 490.9,299.8 491.4,299.8 491.89,299.8 492.39,299.8 492.89,299.8 493.39,299.8 493.89,299.8 494.39,299.8 494.88,299.8 495.38,299.8 495.88,299.8 496.38,299.8 496.88,299.8 497.38,299.8 497.87,299.8 498.37,299.8 498.87,299.8 499.37,299.8 499.87,299.8 500.37,299.8 500.86,299.8 501.36,299.8 501.86,299.8 502.36,299.8 502.86,299.8 503.36,299.79 503.85,299.79 504.35,299.79 504.85,299.79 505.35,299.79 505.85,299.79 506.35,299.78 506.84,299.78 507.34,299.78 507.84,299.77 508.34,299.77 508.84,299.76 509.34,299.75 509.83,299.75 510.33,299.74 510.83,299.73 511.33,299.71 511.83,299.7 512.33,299.68 512.82,299.66 513.32,299.64 513.82,299.62 514.32,299.59 514.82,299.56 515.32,299.52 515.81,299.48 516.31,299.43 516.81,299.38 517.31,299.32 517.81,299.25 518.31,299.17 518.8,299.09 519.3,298.99 519.8,298.88 520.3,298.76 520.8,298.63 521.3,298.48 521.79,298.32 522.29,298.14 522.79,297.94 523.29,297.72 523.79,297.48 524.29,297.22 524.78,296.93 525.28,296.62 525.78,296.28 526.28,295.91 526.78,295.5 527.28,295.07 527.77,294.59 528.27,294.09 528.77,293.54 529.27,292.95 529.77,292.33 530.27,291.66 530.76,290.94 531.26,290.18 531.76,289.38 532.26,288.53 532.76,287.63 533.26,286.68 533.75,285.68 534.25,284.64 534.75,283.55 535.25,282.41 535.75,281.22 536.25,280 536.74,278.72 537.24,277.41 537.74,276.06 538.24,274.67 538.74,273.25 539.24,271.8 539.73,270.32 540.23,268.82 540.73,267.31 541.23,265.78 541.73,264.24 542.23,262.71 542.72,261.17 543.22,259.65 543.72,258.14 544.22,256.66 544.72,255.2 545.22,253.77 545.71,252.39 546.21,251.05 546.71,249.77 547.21,248.55 547.71,247.39 548.21,246.3 548.7,245.29 549.2,244.36 549.7,243.51 550.2,242.76 550.7,242.1 551.2,241.54 551.69,241.08 552.19,240.73 552.69,240.48 553.19,240.34 553.69,240.3 554.19,240.37 554.68,240.55 555.18,240.84 555.68,241.23 556.18,241.73 556.68,242.32 557.18,243.02 557.67,243.8 558.17,244.67 558.67,245.63 559.17,246.67 559.67,247.79 560.17,248.97 560.66,250.21 561.16,251.52 561.66,252.87 562.16,254.27 562.66,255.71 563.16,257.18 563.65,258.67 564.15,260.18 564.65,261.71 565.15,263.25 565.65,264.78 566.15,266.32 566.64,267.84 567.14,269.35 567.64,270.84 568.14,272.31 568.64,273.75 569.14,275.16 569.63,276.54 570.13,277.88 570.63,279.17 571.13,280.43 571.63,281.65 572.13,282.81 572.62,283.94 573.12,285.01 573.62,286.04 574.12,287.02 574.62,287.95 575.12,288.83 575.61,289.67 576.11,290.46 576.61,291.2 577.11,291.9 577.61,292.55 578.11,293.16 578.6,293.74 579.1,294.27 579.6,294.76 580.1,295.22 580.6,295.65 581.1,296.04 581.59,296.4 582.09,296.73 582.59,297.04 583.09,297.32 583.59,297.57 584.09,297.8 584.58,298.02 585.08,298.21 585.58,298.38 586.08,298.54 586.58,298.68 587.08,298.81 587.57,298.92 588.07,299.02 588.57,299.12 589.07,299.2 589.57,299.27 590.07,299.34 590.56,299.4 591.06,299.45 591.56,299.49 592.06,299.53 592.56,299.57 593.06,299.6 593.55,299.63 594.05,299.65 594.55,299.67 595.05,299.69 595.55,299.7 596.05,299.72 596.54,299.73 597.04,299.74 597.54,299.75 598.04,299.76 598.54,299.76 599.04,299.77 599.53,299.77 600.03,299.78 600.53,299.78 601.03,299.78 601.53,299.79 602.03,299.79 602.52,299.79 603.02,299.79 603.52,299.79 604.02,299.79 604.52,299.8 605.02,299.8 605.51,299.8 606.01,299.8 606.51,299.8 607.01,299.8 607.51,299.8 608.01,299.8 608.5,299.8 609,299.8 609.5,299.8 610,299.8" fill="none" stroke="#ff0000" stroke-width="1.6"/>
</g>
<path d="M486.07 312.2v-2.7M486.07 180.2v2.7M489.21 312.2v-2.7M489.21 180.2v2.7M492.35 312.2v-2.7M492.35 180.2v2.7M495.49 312.2v-2.7M495.49 180.2v2.7M498.63 312.2v-2.7M498.63 180.2v2.7M501.77 312.2v-2.7M501.77 180.2v2.7M504.91 312.2v-2.7M504.91 180.2v2.7M508.05 312.2v-2.7M508.05 180.2v2.7M511.19 312.2v-2.7M511.19 180.2v2.7M514.33 312.2v-5.1M514.33 180.2v5.1M517.47 312.2v-2.7M517.47 180.2v2.7M520.61 312.2v-2.7M520.61 180.2v2.7M523.75 312.2v-2.7M523.75 180.2v2.7M526.89 312.2v-2.7M526.89 180.2v2.7M530.03 312.2v-2.7M530.03 180.2v2.7M533.17 312.2v-2.7M533.17 180.2v2.7M536.31 312.2v-2.7M536.31 180.2v2.7M539.45 312.2v-2.7M539.45 180.2v2.7M542.59 312.2v-2.7M542.59 180.2v2.7M545.73 312.2v-5.1M545.73 180.2v5.1M548.87 312.2v-2.7M548.87 180.2v2.7M552.01 312.2v-2.7M552.01 180.2v2.7M555.15 312.2v-2.7M555.15 180.2v2.7M558.29 312.2v-2.7M558.29 180.2v2.7M561.43 312.2v-2.7M561.43 180.2v2.7M564.57 312.2v-2.7M564.57 180.2v2.7M567.71 312.2v-2.7M567.71 180.2v2.7M570.85 312.2v-2.7M570.85 180.2v2.7M573.99 312.2v-2.7M573.99 180.2v2.7M577.13 312.2v-5.1M577.13 180.2v5.1M580.27 312.2v-2.7M580.27 180.2v2.7M583.41 312.2v-2.7M583.41 180.2v2.7M586.55 312.2v-2.7M586.55 180.2v2.7M589.69 312.2v-2.7M589.69 180.2v2.7M592.83 312.2v-2.7M592.83 180.2v2.7M595.97 312.2v-2.7M595.97 180.2v2.7M599.11 312.2v-2.7M599.11 180.2v2.7M602.25 312.2v-2.7M602.25 180.2v2.7M605.39 312.2v-2.7M605.39 180.2v2.7M608.53 312.2v-5.1M608.53 180.2v5.1M483.5 304.1h5.1M609 304.1h-5.1M483.5 296.13h2.7M609 296.13h-2.7M483.5 288.17h2.7M609 288.17h-2.7M483.5 280.2h2.7M609 280.2h-2.7M483.5 272.23h5.1M609 272.23h-5.1M483.5 264.27h2.7M609 264.27h-2.7M483.5 256.3h2.7M609 256.3h-2.7M483.5 248.33h2.7M609 248.33h-2.7M483.5 240.37h5.1M609 240.37h-5.1M483.5 232.4h2.7M609 232.4h-2.7M483.5 224.43h2.7M609 224.43h-2.7M483.5 216.47h2.7M609 216.47h-2.7M483.5 208.5h5.1M609 208.5h-5.1M483.5 200.53h2.7M609 200.53h-2.7M483.5 192.57h2.7M609 192.57h-2.7M483.5 184.6h2.7M609 184.6h-2.7" stroke="#000" stroke-width="1.15" fill="none"/>
<rect x="483.5" y="180.2" width="125.5" height="132" fill="none" stroke="#000" stroke-width="1.45"/>
<text x="475.9" y="306.6" class="tl" text-anchor="end">200</text>
<text x="475.9" y="274.73" class="tl" text-anchor="end">400</text>
<text x="475.9" y="242.87" class="tl" text-anchor="end">600</text>
<text x="475.9" y="211" class="tl" text-anchor="end">800</text>
<text x="514.33" y="322" class="tl" text-anchor="middle">278.3</text>
<text x="545.73" y="322" class="tl" text-anchor="middle">278.4</text>
<text x="577.13" y="322" class="tl" text-anchor="middle">278.5</text>
<text x="608.53" y="322" class="tl" text-anchor="middle">278.6</text>
<text x="489.8" y="192.7" class="tt">Mg VII 278.402 Å</text>
<text x="548" y="192.7" class="tt t2">(log T~5.80)</text>
<clipPath id="c41"><rect x="633.5" y="180.2" width="125.5" height="132"/></clipPath>
<g clip-path="url(#c41)">
<line x1="696.93" y1="186.95" x2="696.93" y2="314.2" stroke="#000" stroke-width="1.5" stroke-dasharray="2.5 7.7"/>
<path d="M629.9 320H636.91V279.4H643.91V282.4H650.92V251H657.93V244H664.93V221.6H671.94V254.5H678.95V260H685.96V254H692.96V227.5H699.97V223.2H706.98V226.1H713.98V195.8H720.99V244H728V224.7H735V257.8H742.01V269.9H749.02V223.8H756.03V223.8H763.03" fill="none" stroke="#000" stroke-width="1.6"/>
<polyline points="640.41,279.4 647.42,282.4 654.42,251 661.43,244 668.44,221.6 675.45,254.5 682.45,260 689.46,254 696.47,227.5 703.47,223.2 710.48,226.1 717.49,195.8 724.49,244" fill="none" stroke="#000" stroke-width="1.6"/>
<polyline points="633.5,263.3 634,263.3 634.5,263.3 635,263.3 635.49,263.3 635.99,263.3 636.49,263.3 636.99,263.3 637.49,263.3 637.99,263.3 638.49,263.3 638.99,263.3 639.48,263.3 639.98,263.3 640.48,263.3 640.98,263.3 641.48,263.3 641.98,263.3 642.48,263.3 642.98,263.3 643.47,263.3 643.97,263.29 644.47,263.29 644.97,263.29 645.47,263.29 645.97,263.29 646.47,263.29 646.97,263.29 647.46,263.29 647.96,263.28 648.46,263.28 648.96,263.28 649.46,263.28 649.96,263.27 650.46,263.27 650.96,263.27 651.45,263.26 651.95,263.26 652.45,263.25 652.95,263.24 653.45,263.23 653.95,263.23 654.45,263.22 654.95,263.21 655.44,263.19 655.94,263.18 656.44,263.17 656.94,263.15 657.44,263.13 657.94,263.11 658.44,263.09 658.94,263.07 659.43,263.04 659.93,263.01 660.43,262.98 660.93,262.94 661.43,262.9 661.93,262.86 662.43,262.81 662.93,262.76 663.42,262.71 663.92,262.64 664.42,262.58 664.92,262.5 665.42,262.42 665.92,262.34 666.42,262.24 666.92,262.14 667.41,262.03 667.91,261.91 668.41,261.79 668.91,261.65 669.41,261.5 669.91,261.34 670.41,261.17 670.91,260.99 671.4,260.79 671.9,260.58 672.4,260.36 672.9,260.12 673.4,259.86 673.9,259.59 674.4,259.31 674.9,259 675.39,258.68 675.89,258.34 676.39,257.98 676.89,257.61 677.39,257.21 677.89,256.79 678.39,256.35 678.89,255.89 679.38,255.41 679.88,254.91 680.38,254.38 680.88,253.84 681.38,253.27 681.88,252.68 682.38,252.07 682.88,251.43 683.37,250.78 683.87,250.1 684.37,249.41 684.87,248.69 685.37,247.95 685.87,247.2 686.37,246.43 686.87,245.64 687.36,244.84 687.86,244.02 688.36,243.19 688.86,242.34 689.36,241.49 689.86,240.63 690.36,239.76 690.86,238.89 691.35,238.01 691.85,237.13 692.35,236.25 692.85,235.38 693.35,234.51 693.85,233.64 694.35,232.79 694.85,231.95 695.34,231.12 695.84,230.31 696.34,229.51 696.84,228.74 697.34,227.99 697.84,227.26 698.34,226.56 698.84,225.9 699.33,225.26 699.83,224.66 700.33,224.09 700.83,223.56 701.33,223.07 701.83,222.62 702.33,222.21 702.83,221.84 703.32,221.52 703.82,221.25 704.32,221.02 704.82,220.85 705.32,220.72 705.82,220.63 706.32,220.6 706.82,220.62 707.31,220.68 707.81,220.8 708.31,220.96 708.81,221.17 709.31,221.43 709.81,221.73 710.31,222.08 710.81,222.48 711.3,222.91 711.8,223.39 712.3,223.91 712.8,224.46 713.3,225.05 713.8,225.68 714.3,226.34 714.8,227.03 715.29,227.74 715.79,228.48 716.29,229.25 716.79,230.04 717.29,230.85 717.79,231.67 718.29,232.51 718.79,233.36 719.28,234.22 719.78,235.09 720.28,235.96 720.78,236.84 721.28,237.72 721.78,238.59 722.28,239.47 722.78,240.34 723.27,241.2 723.77,242.06 724.27,242.91 724.77,243.74 725.27,244.57 725.77,245.37 726.27,246.17 726.77,246.94 727.26,247.7 727.76,248.45 728.26,249.17 728.76,249.87 729.26,250.56 729.76,251.22 730.26,251.86 730.76,252.48 731.25,253.07 731.75,253.65 732.25,254.2 732.75,254.74 733.25,255.25 733.75,255.73 734.25,256.2 734.75,256.65 735.24,257.07 735.74,257.48 736.24,257.86 736.74,258.23 737.24,258.57 737.74,258.9 738.24,259.21 738.74,259.5 739.23,259.78 739.73,260.03 740.23,260.28 740.73,260.51 741.23,260.72 741.73,260.92 742.23,261.11 742.73,261.28 743.22,261.45 743.72,261.6 744.22,261.74 744.72,261.87 745.22,261.99 745.72,262.11 746.22,262.21 746.72,262.31 747.21,262.4 747.71,262.48 748.21,262.55 748.71,262.62 749.21,262.69 749.71,262.74 750.21,262.8 750.71,262.85 751.2,262.89 751.7,262.93 752.2,262.97 752.7,263" fill="none" stroke="#ff0000" stroke-width="1.6"/>
</g>
<path d="M635.07 312.2v-2.7M635.07 180.2v2.7M638.21 312.2v-2.7M638.21 180.2v2.7M641.35 312.2v-2.7M641.35 180.2v2.7M644.49 312.2v-2.7M644.49 180.2v2.7M647.63 312.2v-2.7M647.63 180.2v2.7M650.77 312.2v-2.7M650.77 180.2v2.7M653.91 312.2v-5.1M653.91 180.2v5.1M657.05 312.2v-2.7M657.05 180.2v2.7M660.19 312.2v-2.7M660.19 180.2v2.7M663.33 312.2v-2.7M663.33 180.2v2.7M666.47 312.2v-2.7M666.47 180.2v2.7M669.61 312.2v-2.7M669.61 180.2v2.7M672.75 312.2v-2.7M672.75 180.2v2.7M675.89 312.2v-2.7M675.89 180.2v2.7M679.03 312.2v-2.7M679.03 180.2v2.7M682.17 312.2v-2.7M682.17 180.2v2.7M685.31 312.2v-5.1M685.31 180.2v5.1M688.45 312.2v-2.7M688.45 180.2v2.7M691.59 312.2v-2.7M691.59 180.2v2.7M694.73 312.2v-2.7M694.73 180.2v2.7M697.87 312.2v-2.7M697.87 180.2v2.7M701.01 312.2v-2.7M701.01 180.2v2.7M704.15 312.2v-2.7M704.15 180.2v2.7M707.29 312.2v-2.7M707.29 180.2v2.7M710.43 312.2v-2.7M710.43 180.2v2.7M713.57 312.2v-2.7M713.57 180.2v2.7M716.71 312.2v-5.1M716.71 180.2v5.1M719.85 312.2v-2.7M719.85 180.2v2.7M722.99 312.2v-2.7M722.99 180.2v2.7M726.13 312.2v-2.7M726.13 180.2v2.7M729.27 312.2v-2.7M729.27 180.2v2.7M732.41 312.2v-2.7M732.41 180.2v2.7M735.55 312.2v-2.7M735.55 180.2v2.7M738.69 312.2v-2.7M738.69 180.2v2.7M741.83 312.2v-2.7M741.83 180.2v2.7M744.97 312.2v-2.7M744.97 180.2v2.7M748.11 312.2v-5.1M748.11 180.2v5.1M751.25 312.2v-2.7M751.25 180.2v2.7M754.39 312.2v-2.7M754.39 180.2v2.7M757.53 312.2v-2.7M757.53 180.2v2.7M633.5 309.12h2.7M759 309.12h-2.7M633.5 306.21h2.7M759 306.21h-2.7M633.5 303.31h2.7M759 303.31h-2.7M633.5 300.4h2.7M759 300.4h-2.7M633.5 297.5h5.1M759 297.5h-5.1M633.5 294.6h2.7M759 294.6h-2.7M633.5 291.69h2.7M759 291.69h-2.7M633.5 288.78h2.7M759 288.78h-2.7M633.5 285.88h2.7M759 285.88h-2.7M633.5 282.98h2.7M759 282.98h-2.7M633.5 280.07h2.7M759 280.07h-2.7M633.5 277.16h2.7M759 277.16h-2.7M633.5 274.26h2.7M759 274.26h-2.7M633.5 271.36h2.7M759 271.36h-2.7M633.5 268.45h5.1M759 268.45h-5.1M633.5 265.55h2.7M759 265.55h-2.7M633.5 262.64h2.7M759 262.64h-2.7M633.5 259.74h2.7M759 259.74h-2.7M633.5 256.83h2.7M759 256.83h-2.7M633.5 253.93h2.7M759 253.93h-2.7M633.5 251.02h2.7M759 251.02h-2.7M633.5 248.12h2.7M759 248.12h-2.7M633.5 245.21h2.7M759 245.21h-2.7M633.5 242.31h2.7M759 242.31h-2.7M633.5 239.4h5.1M759 239.4h-5.1M633.5 236.5h2.7M759 236.5h-2.7M633.5 233.59h2.7M759 233.59h-2.7M633.5 230.69h2.7M759 230.69h-2.7M633.5 227.78h2.7M759 227.78h-2.7M633.5 224.88h2.7M759 224.88h-2.7M633.5 221.97h2.7M759 221.97h-2.7M633.5 219.06h2.7M759 219.06h-2.7M633.5 216.16h2.7M759 216.16h-2.7M633.5 213.25h2.7M759 213.25h-2.7M633.5 210.35h5.1M759 210.35h-5.1M633.5 207.44h2.7M759 207.44h-2.7M633.5 204.54h2.7M759 204.54h-2.7M633.5 201.64h2.7M759 201.64h-2.7M633.5 198.73h2.7M759 198.73h-2.7M633.5 195.83h2.7M759 195.83h-2.7M633.5 192.92h2.7M759 192.92h-2.7M633.5 190.02h2.7M759 190.02h-2.7M633.5 187.11h2.7M759 187.11h-2.7M633.5 184.21h2.7M759 184.21h-2.7M633.5 181.3h5.1M759 181.3h-5.1" stroke="#000" stroke-width="1.15" fill="none"/>
<rect x="633.5" y="180.2" width="125.5" height="132" fill="none" stroke="#000" stroke-width="1.45"/>
<text x="625.9" y="300" class="tl" text-anchor="end">200</text>
<text x="625.9" y="270.95" class="tl" text-anchor="end">300</text>
<text x="625.9" y="241.9" class="tl" text-anchor="end">400</text>
<text x="625.9" y="212.85" class="tl" text-anchor="end">500</text>
<text x="625.9" y="183.8" class="tl" text-anchor="end">600</text>
<text x="653.91" y="322" class="tl" text-anchor="middle">280.6</text>
<text x="685.31" y="322" class="tl" text-anchor="middle">280.7</text>
<text x="716.71" y="322" class="tl" text-anchor="middle">280.8</text>
<text x="748.11" y="322" class="tl" text-anchor="middle">280.9</text>
<text x="639.8" y="194" class="tt">Mg VII 280.737 Å</text>
<text x="698" y="194" class="tt t2">(log T~5.78)</text>
<text class="ay" transform="translate(7.3 69) rotate(-90)" text-anchor="middle">Intensity [erg cm<tspan dy="-1.9" font-size="4.0">-2</tspan><tspan dy="1.9"> s</tspan><tspan dy="-1.9" font-size="4.0">-1</tspan><tspan dy="1.9"> sr</tspan><tspan dy="-1.9" font-size="4.0">-1</tspan><tspan dy="1.9"> Å</tspan><tspan dy="-1.9" font-size="4.0">-1</tspan><tspan dy="1.9"> ]</tspan></text>
<text class="ay" transform="translate(7.3 246.6) rotate(-90)" text-anchor="middle">Intensity [erg cm<tspan dy="-1.9" font-size="4.0">-2</tspan><tspan dy="1.9"> s</tspan><tspan dy="-1.9" font-size="4.0">-1</tspan><tspan dy="1.9"> sr</tspan><tspan dy="-1.9" font-size="4.0">-1</tspan><tspan dy="1.9"> Å</tspan><tspan dy="-1.9" font-size="4.0">-1</tspan><tspan dy="1.9"> ]</tspan></text>
<text class="ax" x="396.5" y="151.2" text-anchor="middle">Wavelength [Å]</text>
<text class="ax" x="396.5" y="329.2" text-anchor="middle">Wavelength [Å]</text>
</svg></body></html>
